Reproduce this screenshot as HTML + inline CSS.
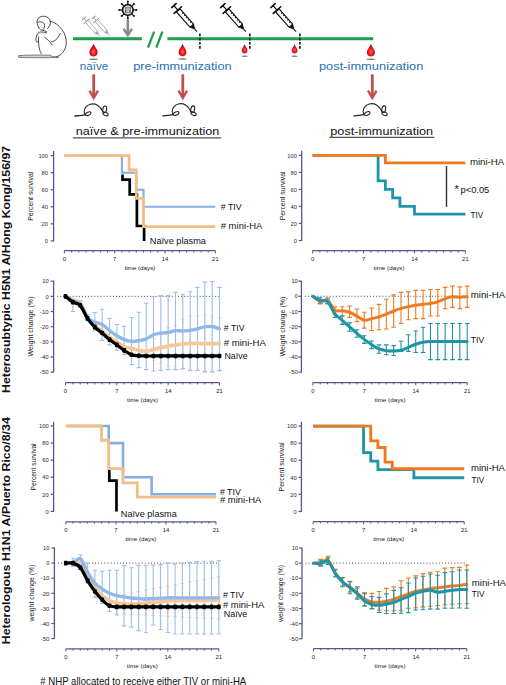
<!DOCTYPE html>
<html><head><meta charset="utf-8"><title>figure</title><style>html,body{margin:0;padding:0;background:#fff;width:506px;height:685px;overflow:hidden}svg text{font-family:"Liberation Sans", sans-serif}</style></head><body>
<svg width="506" height="685" viewBox="0 0 506 685" style="display:block;font-family:'Liberation Sans', sans-serif">
<rect width="506" height="685" fill="#fff"/>
<defs><radialGradient id="dg" cx="0.5" cy="0.62" r="0.55"><stop offset="0" stop-color="#ff6a5a"/><stop offset="0.55" stop-color="#e8141c"/><stop offset="1" stop-color="#b8060e"/></radialGradient><linearGradient id="dl" x1="0" y1="0" x2="0" y2="1"><stop offset="0" stop-color="#5a1010" stop-opacity="0.9"/><stop offset="0.35" stop-color="#c01010" stop-opacity="0"/><stop offset="1" stop-color="#c01010" stop-opacity="0"/></linearGradient></defs>
<g fill="none" stroke="#404040" stroke-width="0.95" stroke-linecap="round" stroke-linejoin="round">
<path d="M38.6,27.4 C37,25 36.6,21.5 37.6,19.4 C39,16.8 42,16 44.5,16.3 C47.3,16.7 49.6,18.3 50.3,21 C50.9,23.6 49.8,26.5 47.6,28.5"/>
<path d="M37.9,22.2 C39.8,21.6 42.2,21.9 43.6,22.9 C45,24.2 44.9,26.8 43.8,28.6 C43,29.9 42,30.3 41.2,30.1 C40,29.6 39.2,28.6 38.6,27.4"/>
<path d="M42.5,30.2 C44.2,30.6 45.5,31 46.6,31.8"/>
<path d="M50,21.2 C54,21.8 58.5,25 62,29.5 C65.3,34 66.6,39.5 66.2,44 C65.8,48.5 63.5,52.5 60.5,54.8 C59,55.9 57.5,56.5 56,56.8"/>
<path d="M36.8,35.6 C37.2,33.4 38.6,32.2 40.6,32 C42.5,31.9 44.8,32.2 46.3,32.8"/>
<path d="M36.8,35.6 C35.8,37.6 35.5,40 36.3,41.6 C36.8,42.4 37.6,42.2 38,41.2"/>
<path d="M38.6,36.8 C38.3,41 38.6,45.5 39.5,49 C40,51.2 40.6,52.6 41.3,53.6"/>
<path d="M44.6,37.2 C46.4,38.6 48.5,40.5 49.8,41.8 C50.8,42.8 51.6,44 52.2,45"/>
<path d="M51.5,41.6 C53.5,41.6 55.2,40.6 57,38.6 C58.4,37 59.4,35.2 60.2,33.6"/>
</g>
<path d="M18.6,55.6 C28,54.9 40,54.9 51,55.2 L51.5,56.4 C54,56.7 56.5,56.8 58.3,56.9 L58.3,57.6 C45,57.9 30,57.8 18.6,57.5 Z" fill="#cfcfcf" stroke="#555" stroke-width="0.7"/>
<line x1="73" y1="38.8" x2="141.8" y2="38.8" stroke="#1c9f4c" stroke-width="2.9"/>
<line x1="167.4" y1="38.8" x2="373.2" y2="38.8" stroke="#1c9f4c" stroke-width="2.9"/>
<path d="M154.1,31.6 L148,47.6 M162.4,31.6 L156.3,47.6" stroke="#1c9f4c" stroke-width="2.3"/>
<g transform="translate(173.9,5.6) rotate(48.4) scale(1)" fill="none" stroke="#111" stroke-linecap="round"><path d="M0,-2.9 V2.9" stroke-width="1.71"/><path d="M0,0 H6" stroke-width="1.32"/><path d="M6,-5.0 V5.0" stroke-width="1.59"/><rect x="6.6" y="-2.3" width="20.6" height="4.6" fill="#fff" stroke-width="1.16" stroke-linejoin="round"/><path d="M11.5,-2.3 v1.5 M14.5,-2.3 v1.5 M17.5,-2.3 v1.5 M20.5,-2.3 v1.5 M23.5,-2.3 v1.5" stroke-width="0.99" stroke-linecap="butt"/><path d="M27.2,-2 L30.6,-0.5 L30.6,0.5 L27.2,2 Z" fill="#111" stroke-width="0.77" stroke-linejoin="round"/><path d="M30.2,0 H34.4" stroke-width="0.99"/></g>
<g transform="translate(222.8,5.6) rotate(48.4) scale(1)" fill="none" stroke="#111" stroke-linecap="round"><path d="M0,-2.9 V2.9" stroke-width="1.71"/><path d="M0,0 H6" stroke-width="1.32"/><path d="M6,-5.0 V5.0" stroke-width="1.59"/><rect x="6.6" y="-2.3" width="20.6" height="4.6" fill="#fff" stroke-width="1.16" stroke-linejoin="round"/><path d="M11.5,-2.3 v1.5 M14.5,-2.3 v1.5 M17.5,-2.3 v1.5 M20.5,-2.3 v1.5 M23.5,-2.3 v1.5" stroke-width="0.99" stroke-linecap="butt"/><path d="M27.2,-2 L30.6,-0.5 L30.6,0.5 L27.2,2 Z" fill="#111" stroke-width="0.77" stroke-linejoin="round"/><path d="M30.2,0 H34.4" stroke-width="0.99"/></g>
<g transform="translate(273,5.6) rotate(48.4) scale(1)" fill="none" stroke="#111" stroke-linecap="round"><path d="M0,-2.9 V2.9" stroke-width="1.71"/><path d="M0,0 H6" stroke-width="1.32"/><path d="M6,-5.0 V5.0" stroke-width="1.59"/><rect x="6.6" y="-2.3" width="20.6" height="4.6" fill="#fff" stroke-width="1.16" stroke-linejoin="round"/><path d="M11.5,-2.3 v1.5 M14.5,-2.3 v1.5 M17.5,-2.3 v1.5 M20.5,-2.3 v1.5 M23.5,-2.3 v1.5" stroke-width="0.99" stroke-linecap="butt"/><path d="M27.2,-2 L30.6,-0.5 L30.6,0.5 L27.2,2 Z" fill="#111" stroke-width="0.77" stroke-linejoin="round"/><path d="M30.2,0 H34.4" stroke-width="0.99"/></g>
<g transform="translate(83.9,18.2) rotate(48.5) scale(0.7)" fill="none" stroke="#9c9c9c" stroke-linecap="round"><path d="M0,-2.9 V2.9" stroke-width="1.63"/><path d="M0,0 H6" stroke-width="1.26"/><path d="M6,-5.0 V5.0" stroke-width="1.52"/><rect x="6.6" y="-2.3" width="20.6" height="4.6" fill="#fff" stroke-width="1.1" stroke-linejoin="round"/><path d="M27.2,-2 L30.6,-0.5 L30.6,0.5 L27.2,2 Z" fill="#9c9c9c" stroke-width="0.73" stroke-linejoin="round"/><path d="M30.2,0 H34.4" stroke-width="0.95"/></g>
<g transform="translate(93.6,17.4) rotate(48.5) scale(0.7)" fill="none" stroke="#9c9c9c" stroke-linecap="round"><path d="M0,-2.9 V2.9" stroke-width="1.63"/><path d="M0,0 H6" stroke-width="1.26"/><path d="M6,-5.0 V5.0" stroke-width="1.52"/><rect x="6.6" y="-2.3" width="20.6" height="4.6" fill="#fff" stroke-width="1.1" stroke-linejoin="round"/><path d="M27.2,-2 L30.6,-0.5 L30.6,0.5 L27.2,2 Z" fill="#9c9c9c" stroke-width="0.73" stroke-linejoin="round"/><path d="M30.2,0 H34.4" stroke-width="0.95"/></g>
<line x1="199.9" y1="33.5" x2="199.9" y2="49" stroke="#111" stroke-width="1.6" stroke-dasharray="2.7,1.5"/>
<line x1="249.8" y1="33.5" x2="249.8" y2="49" stroke="#111" stroke-width="1.6" stroke-dasharray="2.7,1.5"/>
<line x1="299.9" y1="33.5" x2="299.9" y2="49" stroke="#111" stroke-width="1.6" stroke-dasharray="2.7,1.5"/>
<line x1="127.8" y1="4.5" x2="127.8" y2="1.4" stroke="#111" stroke-width="1.2"/><circle cx="127.8" cy="1.4" r="1.0" fill="#111"/><line x1="131.69" y1="6.11" x2="133.88" y2="3.92" stroke="#111" stroke-width="1.2"/><circle cx="133.88" cy="3.92" r="1.0" fill="#111"/><line x1="133.3" y1="10" x2="136.4" y2="10" stroke="#111" stroke-width="1.2"/><circle cx="136.4" cy="10" r="1.0" fill="#111"/><line x1="131.69" y1="13.89" x2="133.88" y2="16.08" stroke="#111" stroke-width="1.2"/><circle cx="133.88" cy="16.08" r="1.0" fill="#111"/><line x1="127.8" y1="15.5" x2="127.8" y2="18.6" stroke="#111" stroke-width="1.2"/><circle cx="127.8" cy="18.6" r="1.0" fill="#111"/><line x1="123.91" y1="13.89" x2="121.72" y2="16.08" stroke="#111" stroke-width="1.2"/><circle cx="121.72" cy="16.08" r="1.0" fill="#111"/><line x1="122.3" y1="10" x2="119.2" y2="10" stroke="#111" stroke-width="1.2"/><circle cx="119.2" cy="10" r="1.0" fill="#111"/><line x1="123.91" y1="6.11" x2="121.72" y2="3.92" stroke="#111" stroke-width="1.2"/><circle cx="121.72" cy="3.92" r="1.0" fill="#111"/>
<circle cx="127.8" cy="10.0" r="5.3" fill="#fff" stroke="#111" stroke-width="1.7"/>
<rect x="124.7" y="6.8" width="6.2" height="6.4" rx="1" fill="#6a6a6a"/>
<path d="M125.6,8.1 h4.4 M125.6,9.4 h4.4 M126.2,10.8 h3.2 M127.1,10.8 v2 M128.8,10.8 v2" stroke="#fff" stroke-width="0.65"/>
<path d="M127.8,19.5 V34.5" stroke="#8a8a8a" stroke-width="2.6"/>
<path d="M123.6,28.8 L127.8,35.2 L132,28.8" fill="none" stroke="#8a8a8a" stroke-width="2.5" stroke-linejoin="miter"/>
<path d="M93.5,43.8 C94.48,47 97.6,49.18 97.6,52.25 C97.6,55.32 95.79,56.6 93.5,56.6 C91.21,56.6 89.4,55.32 89.4,52.25 C89.4,49.18 92.52,47 93.5,43.8 Z" fill="url(#dg)"/>
<path d="M93.5,43.8 C94.48,47 97.6,49.18 97.6,52.25 C97.6,55.32 95.79,56.6 93.5,56.6 C91.21,56.6 89.4,55.32 89.4,52.25 C89.4,49.18 92.52,47 93.5,43.8 Z" fill="url(#dl)"/>
<ellipse cx="93.5" cy="59.3" rx="4.59" ry="0.75" fill="#4f4f66" opacity="0.75"/>
<path d="M182.5,44 C183.44,47.05 186.4,49.12 186.4,52.05 C186.4,54.98 184.69,56.2 182.5,56.2 C180.31,56.2 178.6,54.98 178.6,52.05 C178.6,49.12 181.56,47.05 182.5,44 Z" fill="url(#dg)"/>
<path d="M182.5,44 C183.44,47.05 186.4,49.12 186.4,52.05 C186.4,54.98 184.69,56.2 182.5,56.2 C180.31,56.2 178.6,54.98 178.6,52.05 C178.6,49.12 181.56,47.05 182.5,44 Z" fill="url(#dl)"/>
<ellipse cx="182.5" cy="58.9" rx="4.37" ry="0.75" fill="#4f4f66" opacity="0.75"/>
<path d="M244.6,44.6 C245.28,46.83 247.45,48.34 247.45,50.47 C247.45,52.61 246.19,53.5 244.6,53.5 C243.01,53.5 241.75,52.61 241.75,50.47 C241.75,48.34 243.92,46.83 244.6,44.6 Z" fill="url(#dg)"/>
<path d="M244.6,44.6 C245.28,46.83 247.45,48.34 247.45,50.47 C247.45,52.61 246.19,53.5 244.6,53.5 C243.01,53.5 241.75,52.61 241.75,50.47 C241.75,48.34 243.92,46.83 244.6,44.6 Z" fill="url(#dl)"/>
<ellipse cx="244.6" cy="56.2" rx="3.19" ry="0.75" fill="#4f4f66" opacity="0.75"/>
<path d="M294.6,44.6 C295.28,46.83 297.45,48.34 297.45,50.47 C297.45,52.61 296.19,53.5 294.6,53.5 C293.01,53.5 291.75,52.61 291.75,50.47 C291.75,48.34 293.92,46.83 294.6,44.6 Z" fill="url(#dg)"/>
<path d="M294.6,44.6 C295.28,46.83 297.45,48.34 297.45,50.47 C297.45,52.61 296.19,53.5 294.6,53.5 C293.01,53.5 291.75,52.61 291.75,50.47 C291.75,48.34 293.92,46.83 294.6,44.6 Z" fill="url(#dl)"/>
<ellipse cx="294.6" cy="56.2" rx="3.19" ry="0.75" fill="#4f4f66" opacity="0.75"/>
<path d="M370.9,44 C371.87,47.15 374.93,49.29 374.93,52.32 C374.93,55.34 373.16,56.6 370.9,56.6 C368.64,56.6 366.87,55.34 366.87,52.32 C366.87,49.29 369.93,47.15 370.9,44 Z" fill="url(#dg)"/>
<path d="M370.9,44 C371.87,47.15 374.93,49.29 374.93,52.32 C374.93,55.34 373.16,56.6 370.9,56.6 C368.64,56.6 366.87,55.34 366.87,52.32 C366.87,49.29 369.93,47.15 370.9,44 Z" fill="url(#dl)"/>
<ellipse cx="370.9" cy="59.3" rx="4.52" ry="0.75" fill="#4f4f66" opacity="0.75"/>
<text x="79.7" y="70.2" font-size="11.6" text-anchor="start" fill="#2c6fae" font-weight="normal" textLength="28.5" lengthAdjust="spacingAndGlyphs" >naïve</text>
<text x="133.2" y="70.3" font-size="11.6" text-anchor="start" fill="#2c6fae" font-weight="normal" textLength="98.5" lengthAdjust="spacingAndGlyphs" >pre-immunization</text>
<text x="318.9" y="70.2" font-size="11.6" text-anchor="start" fill="#2c6fae" font-weight="normal" textLength="104.5" lengthAdjust="spacingAndGlyphs" >post-immunization</text>
<path d="M93.7,74.3 V96" stroke="#c0504d" stroke-width="2.8"/>
<path d="M89.4,90.6 L93.7,97.9 L98,90.6" fill="none" stroke="#c0504d" stroke-width="2.4" stroke-linejoin="miter"/>
<path d="M182.8,74.3 V96" stroke="#c0504d" stroke-width="2.8"/>
<path d="M178.5,90.6 L182.8,97.9 L187.1,90.6" fill="none" stroke="#c0504d" stroke-width="2.4" stroke-linejoin="miter"/>
<path d="M372.3,74.3 V96" stroke="#c0504d" stroke-width="2.8"/>
<path d="M368,90.6 L372.3,97.9 L376.6,90.6" fill="none" stroke="#c0504d" stroke-width="2.4" stroke-linejoin="miter"/>
<g transform="translate(74.8,116)" fill="none" stroke="#262626" stroke-width="1.1" stroke-linecap="round"><path d="M0,0 C3,-0.1 6.5,-0.4 10.2,-1.1" stroke-width="1.3"/><ellipse cx="13.4" cy="-2.3" rx="2.9" ry="1.6" transform="rotate(-22 13.4 -2.3)"/><path d="M10.2,-1.1 C8.3,-4 9.2,-9.5 15.4,-11.7 C20.5,-13.3 25.5,-10.2 28.2,-4.2"/><ellipse cx="29.9" cy="-6.6" rx="1.9" ry="3.4" transform="rotate(12 29.9 -6.6)"/><ellipse cx="30.8" cy="-2.0" rx="2.7" ry="1.6" transform="rotate(22 30.8 -2)"/></g>
<g transform="translate(162.8,115.8)" fill="none" stroke="#262626" stroke-width="1.1" stroke-linecap="round"><path d="M0,0 C3,-0.1 6.5,-0.4 10.2,-1.1" stroke-width="1.3"/><ellipse cx="13.4" cy="-2.3" rx="2.9" ry="1.6" transform="rotate(-22 13.4 -2.3)"/><path d="M10.2,-1.1 C8.3,-4 9.2,-9.5 15.4,-11.7 C20.5,-13.3 25.5,-10.2 28.2,-4.2"/><ellipse cx="29.9" cy="-6.6" rx="1.9" ry="3.4" transform="rotate(12 29.9 -6.6)"/><ellipse cx="30.8" cy="-2.0" rx="2.7" ry="1.6" transform="rotate(22 30.8 -2)"/></g>
<g transform="translate(353.8,115.8)" fill="none" stroke="#262626" stroke-width="1.1" stroke-linecap="round"><path d="M0,0 C3,-0.1 6.5,-0.4 10.2,-1.1" stroke-width="1.3"/><ellipse cx="13.4" cy="-2.3" rx="2.9" ry="1.6" transform="rotate(-22 13.4 -2.3)"/><path d="M10.2,-1.1 C8.3,-4 9.2,-9.5 15.4,-11.7 C20.5,-13.3 25.5,-10.2 28.2,-4.2"/><ellipse cx="29.9" cy="-6.6" rx="1.9" ry="3.4" transform="rotate(12 29.9 -6.6)"/><ellipse cx="30.8" cy="-2.0" rx="2.7" ry="1.6" transform="rotate(22 30.8 -2)"/></g>
<text x="75.7" y="135.4" font-size="11.4" text-anchor="start" fill="#111" font-weight="normal" textLength="143.7" lengthAdjust="spacingAndGlyphs" >naïve &amp; pre-immunization</text>
<line x1="72.8" y1="137.9" x2="221.2" y2="137.9" stroke="#555" stroke-width="1.2"/>
<text x="330.3" y="135" font-size="11.4" text-anchor="start" fill="#111" font-weight="normal" textLength="102.8" lengthAdjust="spacingAndGlyphs" >post-immunization</text>
<line x1="329.3" y1="137.3" x2="434.4" y2="137.3" stroke="#555" stroke-width="1.2"/>
<text x="0" y="0" font-size="11.8" font-weight="bold" fill="#111" textLength="247" lengthAdjust="spacingAndGlyphs" transform="translate(9.9,392.9) rotate(-90)">Heterosubtypic H5N1 A/Hong Kong/156/97</text>
<text x="0" y="0" font-size="11.8" font-weight="bold" fill="#111" textLength="227" lengthAdjust="spacingAndGlyphs" transform="translate(9.9,644.2) rotate(-90)">Heterologous H1N1 A/Puerto Rico/8/34</text>
<text x="40.3" y="685.3" font-size="10.2" text-anchor="start" fill="#111" font-weight="normal" textLength="206" lengthAdjust="spacingAndGlyphs" ># NHP allocated to receive either TIV or mini-HA</text>
<line x1="53.6" y1="151" x2="53.6" y2="241.5" stroke="#55568f" stroke-width="1.3"/>
<line x1="50.6" y1="240.9" x2="53.6" y2="240.9" stroke="#55568f" stroke-width="1.2"/>
<text x="48" y="243.1" font-size="6.2" text-anchor="end" fill="#2a2a2a" font-weight="normal" textLength="3.2" lengthAdjust="spacingAndGlyphs" >0</text>
<line x1="50.6" y1="223.86" x2="53.6" y2="223.86" stroke="#55568f" stroke-width="1.2"/>
<text x="48" y="226.06" font-size="6.2" text-anchor="end" fill="#2a2a2a" font-weight="normal" textLength="6.4" lengthAdjust="spacingAndGlyphs" >20</text>
<line x1="50.6" y1="206.82" x2="53.6" y2="206.82" stroke="#55568f" stroke-width="1.2"/>
<text x="48" y="209.02" font-size="6.2" text-anchor="end" fill="#2a2a2a" font-weight="normal" textLength="6.4" lengthAdjust="spacingAndGlyphs" >40</text>
<line x1="50.6" y1="189.78" x2="53.6" y2="189.78" stroke="#55568f" stroke-width="1.2"/>
<text x="48" y="191.98" font-size="6.2" text-anchor="end" fill="#2a2a2a" font-weight="normal" textLength="6.4" lengthAdjust="spacingAndGlyphs" >60</text>
<line x1="50.6" y1="172.74" x2="53.6" y2="172.74" stroke="#55568f" stroke-width="1.2"/>
<text x="48" y="174.94" font-size="6.2" text-anchor="end" fill="#2a2a2a" font-weight="normal" textLength="6.4" lengthAdjust="spacingAndGlyphs" >80</text>
<line x1="50.6" y1="155.7" x2="53.6" y2="155.7" stroke="#55568f" stroke-width="1.2"/>
<text x="48" y="157.9" font-size="6.2" text-anchor="end" fill="#2a2a2a" font-weight="normal" textLength="9.6" lengthAdjust="spacingAndGlyphs" >100</text>
<text x="0" y="0" font-size="6.6" fill="#222" text-anchor="middle" textLength="49" lengthAdjust="spacingAndGlyphs" transform="translate(33.2,196.25) rotate(-90)">Percent survival</text>
<line x1="64.4" y1="250.7" x2="215.4" y2="250.7" stroke="#55568f" stroke-width="1.3"/>
<line x1="64.4" y1="250.7" x2="64.4" y2="253.5" stroke="#55568f" stroke-width="1"/>
<line x1="71.59" y1="250.7" x2="71.59" y2="252.5" stroke="#55568f" stroke-width="1"/>
<line x1="78.78" y1="250.7" x2="78.78" y2="252.5" stroke="#55568f" stroke-width="1"/>
<line x1="85.97" y1="250.7" x2="85.97" y2="252.5" stroke="#55568f" stroke-width="1"/>
<line x1="93.16" y1="250.7" x2="93.16" y2="252.5" stroke="#55568f" stroke-width="1"/>
<line x1="100.35" y1="250.7" x2="100.35" y2="252.5" stroke="#55568f" stroke-width="1"/>
<line x1="107.54" y1="250.7" x2="107.54" y2="252.5" stroke="#55568f" stroke-width="1"/>
<line x1="114.73" y1="250.7" x2="114.73" y2="253.5" stroke="#55568f" stroke-width="1"/>
<line x1="121.92" y1="250.7" x2="121.92" y2="252.5" stroke="#55568f" stroke-width="1"/>
<line x1="129.11" y1="250.7" x2="129.11" y2="252.5" stroke="#55568f" stroke-width="1"/>
<line x1="136.3" y1="250.7" x2="136.3" y2="252.5" stroke="#55568f" stroke-width="1"/>
<line x1="143.5" y1="250.7" x2="143.5" y2="252.5" stroke="#55568f" stroke-width="1"/>
<line x1="150.69" y1="250.7" x2="150.69" y2="252.5" stroke="#55568f" stroke-width="1"/>
<line x1="157.88" y1="250.7" x2="157.88" y2="252.5" stroke="#55568f" stroke-width="1"/>
<line x1="165.07" y1="250.7" x2="165.07" y2="253.5" stroke="#55568f" stroke-width="1"/>
<line x1="172.26" y1="250.7" x2="172.26" y2="252.5" stroke="#55568f" stroke-width="1"/>
<line x1="179.45" y1="250.7" x2="179.45" y2="252.5" stroke="#55568f" stroke-width="1"/>
<line x1="186.64" y1="250.7" x2="186.64" y2="252.5" stroke="#55568f" stroke-width="1"/>
<line x1="193.83" y1="250.7" x2="193.83" y2="252.5" stroke="#55568f" stroke-width="1"/>
<line x1="201.02" y1="250.7" x2="201.02" y2="252.5" stroke="#55568f" stroke-width="1"/>
<line x1="208.21" y1="250.7" x2="208.21" y2="252.5" stroke="#55568f" stroke-width="1"/>
<line x1="215.4" y1="250.7" x2="215.4" y2="253.5" stroke="#55568f" stroke-width="1"/>
<text x="64.4" y="260.7" font-size="5.9" text-anchor="middle" fill="#222" font-weight="normal" >0</text>
<text x="114.73" y="260.7" font-size="5.9" text-anchor="middle" fill="#222" font-weight="normal" >7</text>
<text x="165.07" y="260.7" font-size="5.9" text-anchor="middle" fill="#222" font-weight="normal" >14</text>
<text x="215.4" y="260.7" font-size="5.9" text-anchor="middle" fill="#222" font-weight="normal" >21</text>
<text x="139.9" y="270" font-size="6.1" text-anchor="middle" fill="#222" font-weight="normal" textLength="31" lengthAdjust="spacingAndGlyphs" >time (days)</text>
<path d="M122.52,174.44 L122.52,174.44 L122.52,179.56 L129.71,179.56 L129.71,194.47 L136.9,194.47 L136.9,225.99 L144.1,225.99 L144.1,240.9 L144.1,240.9" fill="none" stroke="#000" stroke-width="2.7" stroke-linejoin="miter" stroke-linecap="butt"/>
<path d="M64.4,155.7 L121.92,155.7 L121.92,172.74 L136.3,172.74 L136.3,189.78 L143.5,189.78 L143.5,206.82 L215.4,206.82" fill="none" stroke="#86aee3" stroke-width="2.1" stroke-linejoin="miter" stroke-linecap="butt"/>
<path d="M64.4,155.7 L129.11,155.7 L129.11,169.93 L136.3,169.93 L136.3,198.3 L143.5,198.3 L143.5,226.67 L215.4,226.67" fill="none" stroke="#f3bd86" stroke-width="2.8" stroke-linejoin="miter" stroke-linecap="butt"/>
<text x="220.7" y="209.6" font-size="9.5" text-anchor="start" fill="#111" font-weight="normal" textLength="21" lengthAdjust="spacingAndGlyphs" ># TIV</text>
<text x="220.7" y="229.1" font-size="9.5" text-anchor="start" fill="#111" font-weight="normal" textLength="41.7" lengthAdjust="spacingAndGlyphs" ># mini-HA</text>
<text x="149.8" y="243.5" font-size="9.5" text-anchor="start" fill="#111" font-weight="normal" textLength="56.1" lengthAdjust="spacingAndGlyphs" >Naïve plasma</text>
<line x1="53.6" y1="280.6" x2="53.6" y2="372.4" stroke="#55568f" stroke-width="1.3"/>
<line x1="50.6" y1="281.2" x2="53.6" y2="281.2" stroke="#55568f" stroke-width="1.2"/>
<text x="48.6" y="283.4" font-size="6.2" text-anchor="end" fill="#2a2a2a" font-weight="normal" textLength="6.4" lengthAdjust="spacingAndGlyphs" >10</text>
<line x1="50.6" y1="296.37" x2="53.6" y2="296.37" stroke="#55568f" stroke-width="1.2"/>
<text x="48.6" y="298.57" font-size="6.2" text-anchor="end" fill="#2a2a2a" font-weight="normal" textLength="3.2" lengthAdjust="spacingAndGlyphs" >0</text>
<line x1="50.6" y1="311.53" x2="53.6" y2="311.53" stroke="#55568f" stroke-width="1.2"/>
<text x="48.6" y="313.73" font-size="6.2" text-anchor="end" fill="#2a2a2a" font-weight="normal" textLength="8.6" lengthAdjust="spacingAndGlyphs" >-10</text>
<line x1="50.6" y1="326.7" x2="53.6" y2="326.7" stroke="#55568f" stroke-width="1.2"/>
<text x="48.6" y="328.9" font-size="6.2" text-anchor="end" fill="#2a2a2a" font-weight="normal" textLength="8.6" lengthAdjust="spacingAndGlyphs" >-20</text>
<line x1="50.6" y1="341.87" x2="53.6" y2="341.87" stroke="#55568f" stroke-width="1.2"/>
<text x="48.6" y="344.07" font-size="6.2" text-anchor="end" fill="#2a2a2a" font-weight="normal" textLength="8.6" lengthAdjust="spacingAndGlyphs" >-30</text>
<line x1="50.6" y1="357.03" x2="53.6" y2="357.03" stroke="#55568f" stroke-width="1.2"/>
<text x="48.6" y="359.23" font-size="6.2" text-anchor="end" fill="#2a2a2a" font-weight="normal" textLength="8.6" lengthAdjust="spacingAndGlyphs" >-40</text>
<line x1="50.6" y1="372.2" x2="53.6" y2="372.2" stroke="#55568f" stroke-width="1.2"/>
<text x="48.6" y="374.4" font-size="6.2" text-anchor="end" fill="#2a2a2a" font-weight="normal" textLength="8.6" lengthAdjust="spacingAndGlyphs" >-50</text>
<text x="0" y="0" font-size="6.6" fill="#222" text-anchor="middle" textLength="60" lengthAdjust="spacingAndGlyphs" transform="translate(32.7,326.5) rotate(-90)">Weight change (%)</text>
<line x1="65.5" y1="382.6" x2="219.5" y2="382.6" stroke="#55568f" stroke-width="1.3"/>
<line x1="65.5" y1="382.6" x2="65.5" y2="385.4" stroke="#55568f" stroke-width="1"/>
<line x1="72.83" y1="382.6" x2="72.83" y2="384.4" stroke="#55568f" stroke-width="1"/>
<line x1="80.17" y1="382.6" x2="80.17" y2="384.4" stroke="#55568f" stroke-width="1"/>
<line x1="87.5" y1="382.6" x2="87.5" y2="384.4" stroke="#55568f" stroke-width="1"/>
<line x1="94.83" y1="382.6" x2="94.83" y2="384.4" stroke="#55568f" stroke-width="1"/>
<line x1="102.17" y1="382.6" x2="102.17" y2="384.4" stroke="#55568f" stroke-width="1"/>
<line x1="109.5" y1="382.6" x2="109.5" y2="384.4" stroke="#55568f" stroke-width="1"/>
<line x1="116.83" y1="382.6" x2="116.83" y2="385.4" stroke="#55568f" stroke-width="1"/>
<line x1="124.17" y1="382.6" x2="124.17" y2="384.4" stroke="#55568f" stroke-width="1"/>
<line x1="131.5" y1="382.6" x2="131.5" y2="384.4" stroke="#55568f" stroke-width="1"/>
<line x1="138.83" y1="382.6" x2="138.83" y2="384.4" stroke="#55568f" stroke-width="1"/>
<line x1="146.17" y1="382.6" x2="146.17" y2="384.4" stroke="#55568f" stroke-width="1"/>
<line x1="153.5" y1="382.6" x2="153.5" y2="384.4" stroke="#55568f" stroke-width="1"/>
<line x1="160.83" y1="382.6" x2="160.83" y2="384.4" stroke="#55568f" stroke-width="1"/>
<line x1="168.17" y1="382.6" x2="168.17" y2="385.4" stroke="#55568f" stroke-width="1"/>
<line x1="175.5" y1="382.6" x2="175.5" y2="384.4" stroke="#55568f" stroke-width="1"/>
<line x1="182.83" y1="382.6" x2="182.83" y2="384.4" stroke="#55568f" stroke-width="1"/>
<line x1="190.17" y1="382.6" x2="190.17" y2="384.4" stroke="#55568f" stroke-width="1"/>
<line x1="197.5" y1="382.6" x2="197.5" y2="384.4" stroke="#55568f" stroke-width="1"/>
<line x1="204.83" y1="382.6" x2="204.83" y2="384.4" stroke="#55568f" stroke-width="1"/>
<line x1="212.17" y1="382.6" x2="212.17" y2="384.4" stroke="#55568f" stroke-width="1"/>
<line x1="219.5" y1="382.6" x2="219.5" y2="385.4" stroke="#55568f" stroke-width="1"/>
<text x="65.5" y="392.6" font-size="5.9" text-anchor="middle" fill="#222" font-weight="normal" >0</text>
<text x="116.83" y="392.6" font-size="5.9" text-anchor="middle" fill="#222" font-weight="normal" >7</text>
<text x="168.17" y="392.6" font-size="5.9" text-anchor="middle" fill="#222" font-weight="normal" >14</text>
<text x="219.5" y="392.6" font-size="5.9" text-anchor="middle" fill="#222" font-weight="normal" >21</text>
<text x="142.5" y="401.9" font-size="6.1" text-anchor="middle" fill="#222" font-weight="normal" textLength="31" lengthAdjust="spacingAndGlyphs" >time (days)</text>
<line x1="57.1" y1="296.37" x2="219.5" y2="296.37" stroke="#333" stroke-width="0.9" stroke-dasharray="1,2.1"/>
<path d="M80.17,300.16 V304.71 M78.17,300.16 H82.17 M78.17,304.71 H82.17" stroke="#f3bd86" stroke-width="0.9" fill="none" opacity="0.6"/>
<path d="M153.5,338.68 V360.67 M151.5,338.68 H155.5 M151.5,360.67 H155.5" stroke="#f3bd86" stroke-width="0.9" fill="none" opacity="0.6"/>
<path d="M160.83,332.77 V363.25 M158.83,332.77 H162.83 M158.83,363.25 H162.83" stroke="#f3bd86" stroke-width="0.9" fill="none" opacity="0.6"/>
<path d="M168.17,327.31 V366.13 M166.17,327.31 H170.17 M166.17,366.13 H170.17" stroke="#f3bd86" stroke-width="0.9" fill="none" opacity="0.6"/>
<path d="M175.5,325.79 V366.74 M173.5,325.79 H177.5 M173.5,366.74 H177.5" stroke="#f3bd86" stroke-width="0.9" fill="none" opacity="0.6"/>
<path d="M182.83,319.12 V368.86 M180.83,319.12 H184.83 M180.83,368.86 H184.83" stroke="#f3bd86" stroke-width="0.9" fill="none" opacity="0.6"/>
<path d="M190.17,315.93 V370.68 M188.17,315.93 H192.17 M188.17,370.68 H192.17" stroke="#f3bd86" stroke-width="0.9" fill="none" opacity="0.6"/>
<path d="M197.5,316.24 V370.68 M195.5,316.24 H199.5 M195.5,370.68 H199.5" stroke="#f3bd86" stroke-width="0.9" fill="none" opacity="0.6"/>
<path d="M204.83,314.72 V371.14 M202.83,314.72 H206.83 M202.83,371.14 H206.83" stroke="#f3bd86" stroke-width="0.9" fill="none" opacity="0.6"/>
<path d="M212.17,316.24 V371.9 M210.17,316.24 H214.17 M210.17,371.9 H214.17" stroke="#f3bd86" stroke-width="0.9" fill="none" opacity="0.6"/>
<path d="M219.5,317.6 V371.44 M217.5,317.6 H221.5 M217.5,371.44 H221.5" stroke="#f3bd86" stroke-width="0.9" fill="none" opacity="0.6"/>
<path d="M72.83,303.04 V311.53 M70.63,303.04 H75.03 M70.63,311.53 H75.03" stroke="#9dbfec" stroke-width="1.1" fill="none" opacity="1"/>
<path d="M80.17,300.92 V306.98 M77.97,300.92 H82.37 M77.97,306.98 H82.37" stroke="#9dbfec" stroke-width="1.1" fill="none" opacity="1"/>
<path d="M87.5,314.57 V320.63 M85.3,314.57 H89.7 M85.3,320.63 H89.7" stroke="#9dbfec" stroke-width="1.1" fill="none" opacity="1"/>
<path d="M94.83,312.44 V330.64 M92.63,312.44 H97.03 M92.63,330.64 H97.03" stroke="#9dbfec" stroke-width="1.1" fill="none" opacity="1"/>
<path d="M102.17,309.26 V340.35 M99.97,309.26 H104.37 M99.97,340.35 H104.37" stroke="#9dbfec" stroke-width="1.1" fill="none" opacity="1"/>
<path d="M109.5,318.21 V344.9 M107.3,318.21 H111.7 M107.3,344.9 H111.7" stroke="#9dbfec" stroke-width="1.1" fill="none" opacity="1"/>
<path d="M116.83,324.43 V350.21 M114.63,324.43 H119.03 M114.63,350.21 H119.03" stroke="#9dbfec" stroke-width="1.1" fill="none" opacity="1"/>
<path d="M124.17,326.25 V354.61 M121.97,326.25 H126.37 M121.97,354.61 H126.37" stroke="#9dbfec" stroke-width="1.1" fill="none" opacity="1"/>
<path d="M131.5,317.45 V364.62 M129.3,317.45 H133.7 M129.3,364.62 H133.7" stroke="#9dbfec" stroke-width="1.1" fill="none" opacity="1"/>
<path d="M138.83,312.29 V367.65 M136.63,312.29 H141.03 M136.63,367.65 H141.03" stroke="#9dbfec" stroke-width="1.1" fill="none" opacity="1"/>
<path d="M146.17,303.19 V369.62 M143.97,303.19 H148.37 M143.97,369.62 H148.37" stroke="#9dbfec" stroke-width="1.1" fill="none" opacity="1"/>
<path d="M153.5,296.82 V370.99 M151.3,296.82 H155.7 M151.3,370.99 H155.7" stroke="#9dbfec" stroke-width="1.1" fill="none" opacity="1"/>
<path d="M160.83,295.61 V370.38 M158.63,295.61 H163.03 M158.63,370.38 H163.03" stroke="#9dbfec" stroke-width="1.1" fill="none" opacity="1"/>
<path d="M168.17,295.61 V369.62 M165.97,295.61 H170.37 M165.97,369.62 H170.37" stroke="#9dbfec" stroke-width="1.1" fill="none" opacity="1"/>
<path d="M175.5,292.42 V369.62 M173.3,292.42 H177.7 M173.3,369.62 H177.7" stroke="#9dbfec" stroke-width="1.1" fill="none" opacity="1"/>
<path d="M182.83,294.24 V368.86 M180.63,294.24 H185.03 M180.63,368.86 H185.03" stroke="#9dbfec" stroke-width="1.1" fill="none" opacity="1"/>
<path d="M190.17,291.82 V370.38 M187.97,291.82 H192.37 M187.97,370.38 H192.37" stroke="#9dbfec" stroke-width="1.1" fill="none" opacity="1"/>
<path d="M197.5,287.42 V370.38 M195.3,287.42 H199.7 M195.3,370.38 H199.7" stroke="#9dbfec" stroke-width="1.1" fill="none" opacity="1"/>
<path d="M204.83,282.11 V371.9 M202.63,282.11 H207.03 M202.63,371.9 H207.03" stroke="#9dbfec" stroke-width="1.1" fill="none" opacity="1"/>
<path d="M212.17,281.5 V371.9 M209.97,281.5 H214.37 M209.97,371.9 H214.37" stroke="#9dbfec" stroke-width="1.1" fill="none" opacity="1"/>
<path d="M219.5,287.42 V370.38 M217.3,287.42 H221.7 M217.3,370.38 H221.7" stroke="#9dbfec" stroke-width="1.1" fill="none" opacity="1"/>
<path d="M65.5,296.37 C66.72,297 70.39,299.02 72.83,300.16 C75.28,301.3 77.72,300.28 80.17,303.19 C82.61,306.1 85.06,313.93 87.5,317.6 C89.94,321.27 92.39,322.91 94.83,325.18 C97.28,327.46 99.72,329.23 102.17,331.25 C104.61,333.27 107.06,335.55 109.5,337.32 C111.94,339.09 114.39,340.35 116.83,341.87 C119.28,343.38 121.72,345.33 124.17,346.42 C126.61,347.5 129.06,347.73 131.5,348.39 C133.94,349.05 136.39,349.85 138.83,350.36 C141.28,350.87 143.72,351.57 146.17,351.42 C148.61,351.27 151.06,350.08 153.5,349.45 C155.94,348.82 158.39,348.19 160.83,347.63 C163.28,347.07 165.72,346.54 168.17,346.11 C170.61,345.68 173.06,345.41 175.5,345.05 C177.94,344.7 180.39,344.29 182.83,343.99 C185.28,343.69 187.72,343.31 190.17,343.23 C192.61,343.16 195.06,343.46 197.5,343.53 C199.94,343.61 202.39,343.66 204.83,343.69 C207.28,343.71 209.72,343.69 212.17,343.69 C214.61,343.69 218.28,343.69 219.5,343.69" fill="none" stroke="#f6c898" stroke-width="3.7" stroke-linecap="round" stroke-linejoin="round"/>
<path d="M65.5,296.37 C66.72,297.12 70.39,299.65 72.83,300.92 C75.28,302.18 77.72,301.17 80.17,303.95 C82.61,306.73 85.06,314.57 87.5,317.6 C89.94,320.63 92.39,321.01 94.83,322.15 C97.28,323.29 99.72,323.03 102.17,324.43 C104.61,325.82 107.06,328.6 109.5,330.49 C111.94,332.39 114.39,334.28 116.83,335.8 C119.28,337.32 121.72,338.66 124.17,339.59 C126.61,340.53 129.06,341.23 131.5,341.41 C133.94,341.59 136.39,341.08 138.83,340.65 C141.28,340.22 143.72,339.82 146.17,338.83 C148.61,337.85 151.06,335.67 153.5,334.74 C155.94,333.8 158.39,333.6 160.83,333.22 C163.28,332.84 165.72,332.89 168.17,332.46 C170.61,332.03 173.06,330.9 175.5,330.64 C177.94,330.39 180.39,331 182.83,330.95 C185.28,330.9 187.72,330.69 190.17,330.34 C192.61,329.99 195.06,329.4 197.5,328.82 C199.94,328.24 202.39,327.23 204.83,326.85 C207.28,326.47 209.72,326.22 212.17,326.55 C214.61,326.88 218.28,328.44 219.5,328.82" fill="none" stroke="#90b8ea" stroke-width="3.4" stroke-linecap="round" stroke-linejoin="round"/>
<path d="M65.5,296.37 C66.72,297.33 70.39,300.64 72.83,302.13 C75.28,303.62 77.72,302.61 80.17,305.31 C82.61,308.02 85.06,314.72 87.5,318.36 C89.94,322 92.39,324.7 94.83,327.15 C97.28,329.61 99.72,331 102.17,333.07 C104.61,335.14 107.06,337.62 109.5,339.59 C111.94,341.56 114.39,343.11 116.83,344.9 C119.28,346.69 121.72,348.72 124.17,350.36 C126.61,352 129.06,353.85 131.5,354.76 C133.94,355.67 136.39,355.62 138.83,355.82 C141.28,356.02 143.72,355.95 146.17,355.97 C148.61,356 151.06,355.97 153.5,355.97 C155.94,355.97 158.39,355.97 160.83,355.97 C163.28,355.97 165.72,355.97 168.17,355.97 C170.61,355.97 173.06,355.97 175.5,355.97 C177.94,355.97 180.39,355.97 182.83,355.97 C185.28,355.97 187.72,355.97 190.17,355.97 C192.61,355.97 195.06,355.97 197.5,355.97 C199.94,355.97 202.39,355.97 204.83,355.97 C207.28,355.97 209.72,355.97 212.17,355.97 C214.61,355.97 218.28,355.97 219.5,355.97" fill="none" stroke="#000" stroke-width="3.2" stroke-linecap="round" stroke-linejoin="round"/>
<rect x="63.6" y="294.07" width="3.8" height="4.6" rx="1" fill="#000"/>
<rect x="70.93" y="299.83" width="3.8" height="4.6" rx="1" fill="#000"/>
<rect x="78.27" y="303.01" width="3.8" height="4.6" rx="1" fill="#000"/>
<rect x="85.6" y="316.06" width="3.8" height="4.6" rx="1" fill="#000"/>
<rect x="92.93" y="324.85" width="3.8" height="4.6" rx="1" fill="#000"/>
<rect x="100.27" y="330.77" width="3.8" height="4.6" rx="1" fill="#000"/>
<rect x="107.6" y="337.29" width="3.8" height="4.6" rx="1" fill="#000"/>
<rect x="114.93" y="342.6" width="3.8" height="4.6" rx="1" fill="#000"/>
<rect x="122.27" y="348.06" width="3.8" height="4.6" rx="1" fill="#000"/>
<rect x="129.6" y="352.46" width="3.8" height="4.6" rx="1" fill="#000"/>
<rect x="136.93" y="353.52" width="3.8" height="4.6" rx="1" fill="#000"/>
<rect x="144.27" y="353.67" width="3.8" height="4.6" rx="1" fill="#000"/>
<rect x="151.6" y="353.67" width="3.8" height="4.6" rx="1" fill="#000"/>
<rect x="158.93" y="353.67" width="3.8" height="4.6" rx="1" fill="#000"/>
<rect x="166.27" y="353.67" width="3.8" height="4.6" rx="1" fill="#000"/>
<rect x="173.6" y="353.67" width="3.8" height="4.6" rx="1" fill="#000"/>
<rect x="180.93" y="353.67" width="3.8" height="4.6" rx="1" fill="#000"/>
<rect x="188.27" y="353.67" width="3.8" height="4.6" rx="1" fill="#000"/>
<rect x="195.6" y="353.67" width="3.8" height="4.6" rx="1" fill="#000"/>
<rect x="202.93" y="353.67" width="3.8" height="4.6" rx="1" fill="#000"/>
<rect x="210.27" y="353.67" width="3.8" height="4.6" rx="1" fill="#000"/>
<rect x="217.6" y="353.67" width="3.8" height="4.6" rx="1" fill="#000"/>
<text x="223.7" y="331" font-size="9.5" text-anchor="start" fill="#111" font-weight="normal" textLength="21" lengthAdjust="spacingAndGlyphs" ># TIV</text>
<text x="223.7" y="345.7" font-size="9.5" text-anchor="start" fill="#111" font-weight="normal" textLength="42.2" lengthAdjust="spacingAndGlyphs" ># mini-HA</text>
<text x="224.4" y="358.7" font-size="9.5" text-anchor="start" fill="#111" font-weight="normal" textLength="23.2" lengthAdjust="spacingAndGlyphs" >Naïve</text>
<line x1="301.7" y1="150.7" x2="301.7" y2="241" stroke="#55568f" stroke-width="1.3"/>
<line x1="298.7" y1="240.5" x2="301.7" y2="240.5" stroke="#55568f" stroke-width="1.2"/>
<text x="296.9" y="242.7" font-size="6.2" text-anchor="end" fill="#2a2a2a" font-weight="normal" textLength="3.2" lengthAdjust="spacingAndGlyphs" >0</text>
<line x1="298.7" y1="223.48" x2="301.7" y2="223.48" stroke="#55568f" stroke-width="1.2"/>
<text x="296.9" y="225.68" font-size="6.2" text-anchor="end" fill="#2a2a2a" font-weight="normal" textLength="6.4" lengthAdjust="spacingAndGlyphs" >20</text>
<line x1="298.7" y1="206.46" x2="301.7" y2="206.46" stroke="#55568f" stroke-width="1.2"/>
<text x="296.9" y="208.66" font-size="6.2" text-anchor="end" fill="#2a2a2a" font-weight="normal" textLength="6.4" lengthAdjust="spacingAndGlyphs" >40</text>
<line x1="298.7" y1="189.44" x2="301.7" y2="189.44" stroke="#55568f" stroke-width="1.2"/>
<text x="296.9" y="191.64" font-size="6.2" text-anchor="end" fill="#2a2a2a" font-weight="normal" textLength="6.4" lengthAdjust="spacingAndGlyphs" >60</text>
<line x1="298.7" y1="172.42" x2="301.7" y2="172.42" stroke="#55568f" stroke-width="1.2"/>
<text x="296.9" y="174.62" font-size="6.2" text-anchor="end" fill="#2a2a2a" font-weight="normal" textLength="6.4" lengthAdjust="spacingAndGlyphs" >80</text>
<line x1="298.7" y1="155.4" x2="301.7" y2="155.4" stroke="#55568f" stroke-width="1.2"/>
<text x="296.9" y="157.6" font-size="6.2" text-anchor="end" fill="#2a2a2a" font-weight="normal" textLength="9.6" lengthAdjust="spacingAndGlyphs" >100</text>
<text x="0" y="0" font-size="6.6" fill="#222" text-anchor="middle" textLength="49" lengthAdjust="spacingAndGlyphs" transform="translate(285.4,195.85) rotate(-90)">Percent survival</text>
<line x1="312.6" y1="250.7" x2="465.4" y2="250.7" stroke="#55568f" stroke-width="1.3"/>
<line x1="312.6" y1="250.7" x2="312.6" y2="253.5" stroke="#55568f" stroke-width="1"/>
<line x1="319.88" y1="250.7" x2="319.88" y2="252.5" stroke="#55568f" stroke-width="1"/>
<line x1="327.15" y1="250.7" x2="327.15" y2="252.5" stroke="#55568f" stroke-width="1"/>
<line x1="334.43" y1="250.7" x2="334.43" y2="252.5" stroke="#55568f" stroke-width="1"/>
<line x1="341.7" y1="250.7" x2="341.7" y2="252.5" stroke="#55568f" stroke-width="1"/>
<line x1="348.98" y1="250.7" x2="348.98" y2="252.5" stroke="#55568f" stroke-width="1"/>
<line x1="356.26" y1="250.7" x2="356.26" y2="252.5" stroke="#55568f" stroke-width="1"/>
<line x1="363.53" y1="250.7" x2="363.53" y2="253.5" stroke="#55568f" stroke-width="1"/>
<line x1="370.81" y1="250.7" x2="370.81" y2="252.5" stroke="#55568f" stroke-width="1"/>
<line x1="378.09" y1="250.7" x2="378.09" y2="252.5" stroke="#55568f" stroke-width="1"/>
<line x1="385.36" y1="250.7" x2="385.36" y2="252.5" stroke="#55568f" stroke-width="1"/>
<line x1="392.64" y1="250.7" x2="392.64" y2="252.5" stroke="#55568f" stroke-width="1"/>
<line x1="399.91" y1="250.7" x2="399.91" y2="252.5" stroke="#55568f" stroke-width="1"/>
<line x1="407.19" y1="250.7" x2="407.19" y2="252.5" stroke="#55568f" stroke-width="1"/>
<line x1="414.47" y1="250.7" x2="414.47" y2="253.5" stroke="#55568f" stroke-width="1"/>
<line x1="421.74" y1="250.7" x2="421.74" y2="252.5" stroke="#55568f" stroke-width="1"/>
<line x1="429.02" y1="250.7" x2="429.02" y2="252.5" stroke="#55568f" stroke-width="1"/>
<line x1="436.3" y1="250.7" x2="436.3" y2="252.5" stroke="#55568f" stroke-width="1"/>
<line x1="443.57" y1="250.7" x2="443.57" y2="252.5" stroke="#55568f" stroke-width="1"/>
<line x1="450.85" y1="250.7" x2="450.85" y2="252.5" stroke="#55568f" stroke-width="1"/>
<line x1="458.12" y1="250.7" x2="458.12" y2="252.5" stroke="#55568f" stroke-width="1"/>
<line x1="465.4" y1="250.7" x2="465.4" y2="253.5" stroke="#55568f" stroke-width="1"/>
<text x="312.6" y="260.7" font-size="5.9" text-anchor="middle" fill="#222" font-weight="normal" >0</text>
<text x="363.53" y="260.7" font-size="5.9" text-anchor="middle" fill="#222" font-weight="normal" >7</text>
<text x="414.47" y="260.7" font-size="5.9" text-anchor="middle" fill="#222" font-weight="normal" >14</text>
<text x="465.4" y="260.7" font-size="5.9" text-anchor="middle" fill="#222" font-weight="normal" >21</text>
<text x="389" y="270" font-size="6.1" text-anchor="middle" fill="#222" font-weight="normal" textLength="31" lengthAdjust="spacingAndGlyphs" >time (days)</text>
<path d="M312.6,155.4 L378.09,155.4 L378.09,180.93 L385.36,180.93 L385.36,189.44 L392.64,189.44 L392.64,197.95 L399.91,197.95 L399.91,206.46 L414.47,206.46 L414.47,214.12 L465.4,214.12" fill="none" stroke="#1f93a7" stroke-width="2.8" stroke-linejoin="miter" stroke-linecap="butt"/>
<path d="M312.6,155.4 L385.36,155.4 L385.36,162.89 L465.4,162.89" fill="none" stroke="#ee7b22" stroke-width="2.9" stroke-linejoin="miter" stroke-linecap="butt"/>
<line x1="446.5" y1="166" x2="446.5" y2="207" stroke="#333" stroke-width="1.4"/>
<text x="454.4" y="193.3" font-size="11" text-anchor="start" fill="#111" font-weight="normal" >*</text>
<text x="460.5" y="193.1" font-size="9.5" text-anchor="start" fill="#111" font-weight="normal" textLength="28.8" lengthAdjust="spacingAndGlyphs" >p&lt;0.05</text>
<text x="469.9" y="164.9" font-size="9.5" text-anchor="start" fill="#111" font-weight="normal" textLength="34.3" lengthAdjust="spacingAndGlyphs" >mini-HA</text>
<text x="470.5" y="217.7" font-size="9.5" text-anchor="start" fill="#111" font-weight="normal" textLength="12.7" lengthAdjust="spacingAndGlyphs" >TIV</text>
<line x1="301.4" y1="280.7" x2="301.4" y2="372.4" stroke="#55568f" stroke-width="1.3"/>
<line x1="298.4" y1="281.1" x2="301.4" y2="281.1" stroke="#55568f" stroke-width="1.2"/>
<text x="297.8" y="283.3" font-size="6.2" text-anchor="end" fill="#2a2a2a" font-weight="normal" textLength="6.4" lengthAdjust="spacingAndGlyphs" >10</text>
<line x1="298.4" y1="296.28" x2="301.4" y2="296.28" stroke="#55568f" stroke-width="1.2"/>
<text x="297.8" y="298.48" font-size="6.2" text-anchor="end" fill="#2a2a2a" font-weight="normal" textLength="3.2" lengthAdjust="spacingAndGlyphs" >0</text>
<line x1="298.4" y1="311.47" x2="301.4" y2="311.47" stroke="#55568f" stroke-width="1.2"/>
<text x="297.8" y="313.67" font-size="6.2" text-anchor="end" fill="#2a2a2a" font-weight="normal" textLength="8.6" lengthAdjust="spacingAndGlyphs" >-10</text>
<line x1="298.4" y1="326.65" x2="301.4" y2="326.65" stroke="#55568f" stroke-width="1.2"/>
<text x="297.8" y="328.85" font-size="6.2" text-anchor="end" fill="#2a2a2a" font-weight="normal" textLength="8.6" lengthAdjust="spacingAndGlyphs" >-20</text>
<line x1="298.4" y1="341.83" x2="301.4" y2="341.83" stroke="#55568f" stroke-width="1.2"/>
<text x="297.8" y="344.03" font-size="6.2" text-anchor="end" fill="#2a2a2a" font-weight="normal" textLength="8.6" lengthAdjust="spacingAndGlyphs" >-30</text>
<line x1="298.4" y1="357.02" x2="301.4" y2="357.02" stroke="#55568f" stroke-width="1.2"/>
<text x="297.8" y="359.22" font-size="6.2" text-anchor="end" fill="#2a2a2a" font-weight="normal" textLength="8.6" lengthAdjust="spacingAndGlyphs" >-40</text>
<line x1="298.4" y1="372.2" x2="301.4" y2="372.2" stroke="#55568f" stroke-width="1.2"/>
<text x="297.8" y="374.4" font-size="6.2" text-anchor="end" fill="#2a2a2a" font-weight="normal" textLength="8.6" lengthAdjust="spacingAndGlyphs" >-50</text>
<text x="0" y="0" font-size="6.6" fill="#222" text-anchor="middle" textLength="60" lengthAdjust="spacingAndGlyphs" transform="translate(284.5,326.55) rotate(-90)">Weight change (%)</text>
<line x1="312.8" y1="382.6" x2="467.2" y2="382.6" stroke="#55568f" stroke-width="1.3"/>
<line x1="312.8" y1="382.6" x2="312.8" y2="385.4" stroke="#55568f" stroke-width="1"/>
<line x1="320.15" y1="382.6" x2="320.15" y2="384.4" stroke="#55568f" stroke-width="1"/>
<line x1="327.5" y1="382.6" x2="327.5" y2="384.4" stroke="#55568f" stroke-width="1"/>
<line x1="334.86" y1="382.6" x2="334.86" y2="384.4" stroke="#55568f" stroke-width="1"/>
<line x1="342.21" y1="382.6" x2="342.21" y2="384.4" stroke="#55568f" stroke-width="1"/>
<line x1="349.56" y1="382.6" x2="349.56" y2="384.4" stroke="#55568f" stroke-width="1"/>
<line x1="356.91" y1="382.6" x2="356.91" y2="384.4" stroke="#55568f" stroke-width="1"/>
<line x1="364.27" y1="382.6" x2="364.27" y2="385.4" stroke="#55568f" stroke-width="1"/>
<line x1="371.62" y1="382.6" x2="371.62" y2="384.4" stroke="#55568f" stroke-width="1"/>
<line x1="378.97" y1="382.6" x2="378.97" y2="384.4" stroke="#55568f" stroke-width="1"/>
<line x1="386.32" y1="382.6" x2="386.32" y2="384.4" stroke="#55568f" stroke-width="1"/>
<line x1="393.68" y1="382.6" x2="393.68" y2="384.4" stroke="#55568f" stroke-width="1"/>
<line x1="401.03" y1="382.6" x2="401.03" y2="384.4" stroke="#55568f" stroke-width="1"/>
<line x1="408.38" y1="382.6" x2="408.38" y2="384.4" stroke="#55568f" stroke-width="1"/>
<line x1="415.73" y1="382.6" x2="415.73" y2="385.4" stroke="#55568f" stroke-width="1"/>
<line x1="423.09" y1="382.6" x2="423.09" y2="384.4" stroke="#55568f" stroke-width="1"/>
<line x1="430.44" y1="382.6" x2="430.44" y2="384.4" stroke="#55568f" stroke-width="1"/>
<line x1="437.79" y1="382.6" x2="437.79" y2="384.4" stroke="#55568f" stroke-width="1"/>
<line x1="445.14" y1="382.6" x2="445.14" y2="384.4" stroke="#55568f" stroke-width="1"/>
<line x1="452.5" y1="382.6" x2="452.5" y2="384.4" stroke="#55568f" stroke-width="1"/>
<line x1="459.85" y1="382.6" x2="459.85" y2="384.4" stroke="#55568f" stroke-width="1"/>
<line x1="467.2" y1="382.6" x2="467.2" y2="385.4" stroke="#55568f" stroke-width="1"/>
<text x="312.8" y="392.6" font-size="5.9" text-anchor="middle" fill="#222" font-weight="normal" >0</text>
<text x="364.27" y="392.6" font-size="5.9" text-anchor="middle" fill="#222" font-weight="normal" >7</text>
<text x="415.73" y="392.6" font-size="5.9" text-anchor="middle" fill="#222" font-weight="normal" >14</text>
<text x="467.2" y="392.6" font-size="5.9" text-anchor="middle" fill="#222" font-weight="normal" >21</text>
<text x="390" y="401.9" font-size="6.1" text-anchor="middle" fill="#222" font-weight="normal" textLength="31" lengthAdjust="spacingAndGlyphs" >time (days)</text>
<line x1="304.9" y1="296.28" x2="467.2" y2="296.28" stroke="#333" stroke-width="0.9" stroke-dasharray="1,2.1"/>
<path d="M320.15,299.32 V303.88 M317.85,299.32 H322.45 M317.85,303.88 H322.45" stroke="#ee7b22" stroke-width="1.1" fill="none" opacity="1"/>
<path d="M327.5,297.8 V303.12 M325.2,297.8 H329.8 M325.2,303.12 H329.8" stroke="#ee7b22" stroke-width="1.1" fill="none" opacity="1"/>
<path d="M334.86,306.91 V314.5 M332.56,306.91 H337.16 M332.56,314.5 H337.16" stroke="#ee7b22" stroke-width="1.1" fill="none" opacity="1"/>
<path d="M342.21,306.76 V316.17 M339.91,306.76 H344.51 M339.91,316.17 H344.51" stroke="#ee7b22" stroke-width="1.1" fill="none" opacity="1"/>
<path d="M349.56,306 V317.39 M347.26,306 H351.86 M347.26,317.39 H351.86" stroke="#ee7b22" stroke-width="1.1" fill="none" opacity="1"/>
<path d="M356.91,309.04 V321.64 M354.61,309.04 H359.21 M354.61,321.64 H359.21" stroke="#ee7b22" stroke-width="1.1" fill="none" opacity="1"/>
<path d="M364.27,312.23 V328.17 M361.97,312.23 H366.57 M361.97,328.17 H366.57" stroke="#ee7b22" stroke-width="1.1" fill="none" opacity="1"/>
<path d="M371.62,307.97 V330.45 M369.32,307.97 H373.92 M369.32,330.45 H373.92" stroke="#ee7b22" stroke-width="1.1" fill="none" opacity="1"/>
<path d="M378.97,304.33 V329.69 M376.67,304.33 H381.27 M376.67,329.69 H381.27" stroke="#ee7b22" stroke-width="1.1" fill="none" opacity="1"/>
<path d="M386.32,299.32 V328.93 M384.02,299.32 H388.62 M384.02,328.93 H388.62" stroke="#ee7b22" stroke-width="1.1" fill="none" opacity="1"/>
<path d="M393.68,294.92 V327.26 M391.38,294.92 H395.98 M391.38,327.26 H395.98" stroke="#ee7b22" stroke-width="1.1" fill="none" opacity="1"/>
<path d="M401.03,292.34 V323.46 M398.73,292.34 H403.33 M398.73,323.46 H403.33" stroke="#ee7b22" stroke-width="1.1" fill="none" opacity="1"/>
<path d="M408.38,291.88 V319.82 M406.08,291.88 H410.68 M406.08,319.82 H410.68" stroke="#ee7b22" stroke-width="1.1" fill="none" opacity="1"/>
<path d="M415.73,290.36 V318.6 M413.43,290.36 H418.03 M413.43,318.6 H418.03" stroke="#ee7b22" stroke-width="1.1" fill="none" opacity="1"/>
<path d="M423.09,290.36 V318.6 M420.79,290.36 H425.39 M420.79,318.6 H425.39" stroke="#ee7b22" stroke-width="1.1" fill="none" opacity="1"/>
<path d="M430.44,289.45 V316.02 M428.14,289.45 H432.74 M428.14,316.02 H432.74" stroke="#ee7b22" stroke-width="1.1" fill="none" opacity="1"/>
<path d="M437.79,289.45 V316.02 M435.49,289.45 H440.09 M435.49,316.02 H440.09" stroke="#ee7b22" stroke-width="1.1" fill="none" opacity="1"/>
<path d="M445.14,287.33 V308.58 M442.84,287.33 H447.44 M442.84,308.58 H447.44" stroke="#ee7b22" stroke-width="1.1" fill="none" opacity="1"/>
<path d="M452.5,286.11 V307.37 M450.2,286.11 H454.8 M450.2,307.37 H454.8" stroke="#ee7b22" stroke-width="1.1" fill="none" opacity="1"/>
<path d="M459.85,286.87 V308.58 M457.55,286.87 H462.15 M457.55,308.58 H462.15" stroke="#ee7b22" stroke-width="1.1" fill="none" opacity="1"/>
<path d="M467.2,286.11 V307.37 M464.9,286.11 H469.5 M464.9,307.37 H469.5" stroke="#ee7b22" stroke-width="1.1" fill="none" opacity="1"/>
<path d="M320.15,297.8 V303.12 M317.85,297.8 H322.45 M317.85,303.12 H322.45" stroke="#1f93a7" stroke-width="1.1" fill="none" opacity="1"/>
<path d="M327.5,299.02 V303.88 M325.2,299.02 H329.8 M325.2,303.88 H329.8" stroke="#1f93a7" stroke-width="1.1" fill="none" opacity="1"/>
<path d="M334.86,310.71 V317.54 M332.56,310.71 H337.16 M332.56,317.54 H337.16" stroke="#1f93a7" stroke-width="1.1" fill="none" opacity="1"/>
<path d="M342.21,316.02 V324.37 M339.91,316.02 H344.51 M339.91,324.37 H344.51" stroke="#1f93a7" stroke-width="1.1" fill="none" opacity="1"/>
<path d="M349.56,322.85 V331.2 M347.26,322.85 H351.86 M347.26,331.2 H351.86" stroke="#1f93a7" stroke-width="1.1" fill="none" opacity="1"/>
<path d="M356.91,329.69 V337.28 M354.61,329.69 H359.21 M354.61,337.28 H359.21" stroke="#1f93a7" stroke-width="1.1" fill="none" opacity="1"/>
<path d="M364.27,335.76 V343.35 M361.97,335.76 H366.57 M361.97,343.35 H366.57" stroke="#1f93a7" stroke-width="1.1" fill="none" opacity="1"/>
<path d="M371.62,341.07 V348.67 M369.32,341.07 H373.92 M369.32,348.67 H373.92" stroke="#1f93a7" stroke-width="1.1" fill="none" opacity="1"/>
<path d="M378.97,344.87 V353.22 M376.67,344.87 H381.27 M376.67,353.22 H381.27" stroke="#1f93a7" stroke-width="1.1" fill="none" opacity="1"/>
<path d="M386.32,344.87 V354.74 M384.02,344.87 H388.62 M384.02,354.74 H388.62" stroke="#1f93a7" stroke-width="1.1" fill="none" opacity="1"/>
<path d="M393.68,345.63 V355.5 M391.38,345.63 H395.98 M391.38,355.5 H395.98" stroke="#1f93a7" stroke-width="1.1" fill="none" opacity="1"/>
<path d="M401.03,341.23 V351.4 M398.73,341.23 H403.33 M398.73,351.4 H403.33" stroke="#1f93a7" stroke-width="1.1" fill="none" opacity="1"/>
<path d="M408.38,334.7 V351.4 M406.08,334.7 H410.68 M406.08,351.4 H410.68" stroke="#1f93a7" stroke-width="1.1" fill="none" opacity="1"/>
<path d="M415.73,331.05 V352.46 M413.43,331.05 H418.03 M413.43,352.46 H418.03" stroke="#1f93a7" stroke-width="1.1" fill="none" opacity="1"/>
<path d="M423.09,327.26 V352.46 M420.79,327.26 H425.39 M420.79,352.46 H425.39" stroke="#1f93a7" stroke-width="1.1" fill="none" opacity="1"/>
<path d="M430.44,323.46 V359.6 M428.14,323.46 H432.74 M428.14,359.6 H432.74" stroke="#1f93a7" stroke-width="1.1" fill="none" opacity="1"/>
<path d="M437.79,323.46 V359.6 M435.49,323.46 H440.09 M435.49,359.6 H440.09" stroke="#1f93a7" stroke-width="1.1" fill="none" opacity="1"/>
<path d="M445.14,323.46 V359.6 M442.84,323.46 H447.44 M442.84,359.6 H447.44" stroke="#1f93a7" stroke-width="1.1" fill="none" opacity="1"/>
<path d="M452.5,323.46 V359.6 M450.2,323.46 H454.8 M450.2,359.6 H454.8" stroke="#1f93a7" stroke-width="1.1" fill="none" opacity="1"/>
<path d="M459.85,323.46 V359.6 M457.55,323.46 H462.15 M457.55,359.6 H462.15" stroke="#1f93a7" stroke-width="1.1" fill="none" opacity="1"/>
<path d="M467.2,323.46 V359.6 M464.9,323.46 H469.5 M464.9,359.6 H469.5" stroke="#1f93a7" stroke-width="1.1" fill="none" opacity="1"/>
<path d="M312.8,296.28 C314.03,297.14 317.7,300.76 320.15,301.45 C322.6,302.13 325.05,298.92 327.5,300.38 C329.96,301.85 332.41,308.53 334.86,310.25 C337.31,311.97 339.76,310.38 342.21,310.71 C344.66,311.04 347.11,311.31 349.56,312.23 C352.01,313.14 354.46,314.83 356.91,316.17 C359.37,317.51 361.82,319.87 364.27,320.27 C366.72,320.68 369.17,319.16 371.62,318.6 C374.07,318.05 376.52,317.67 378.97,316.93 C381.42,316.2 383.87,315.19 386.32,314.2 C388.77,313.21 391.23,311.97 393.68,311.01 C396.13,310.05 398.58,309.16 401.03,308.43 C403.48,307.7 405.93,307.14 408.38,306.61 C410.83,306.08 413.28,305.65 415.73,305.24 C418.18,304.84 420.63,304.48 423.09,304.18 C425.54,303.88 427.99,303.8 430.44,303.42 C432.89,303.04 435.34,302.71 437.79,301.9 C440.24,301.09 442.69,299.42 445.14,298.56 C447.59,297.7 450.04,296.97 452.5,296.74 C454.95,296.51 457.4,297.19 459.85,297.19 C462.3,297.19 465.97,296.81 467.2,296.74" fill="none" stroke="#ee7b22" stroke-width="3.0" stroke-linecap="round" stroke-linejoin="round"/>
<path d="M312.8,296.28 C314.03,296.97 317.7,299.52 320.15,300.38 C322.6,301.24 325.05,299.19 327.5,301.45 C329.96,303.7 332.41,310.76 334.86,313.9 C337.31,317.03 339.76,318.12 342.21,320.27 C344.66,322.42 347.11,324.6 349.56,326.8 C352.01,329 354.46,331.38 356.91,333.48 C359.37,335.58 361.82,337.53 364.27,339.4 C366.72,341.28 369.17,343.12 371.62,344.72 C374.07,346.31 376.52,347.98 378.97,348.97 C381.42,349.96 383.87,350.31 386.32,350.64 C388.77,350.97 391.23,351.02 393.68,350.94 C396.13,350.87 398.58,350.79 401.03,350.18 C403.48,349.58 405.93,348.29 408.38,347.3 C410.83,346.31 413.28,345.1 415.73,344.26 C418.18,343.43 420.63,342.74 423.09,342.29 C425.54,341.83 427.99,341.66 430.44,341.53 C432.89,341.4 435.34,341.53 437.79,341.53 C440.24,341.53 442.69,341.53 445.14,341.53 C447.59,341.53 450.04,341.53 452.5,341.53 C454.95,341.53 457.4,341.53 459.85,341.53 C462.3,341.53 465.97,341.53 467.2,341.53" fill="none" stroke="#1f93a7" stroke-width="3.0" stroke-linecap="round" stroke-linejoin="round"/>
<text x="470.8" y="298.2" font-size="9.5" text-anchor="start" fill="#111" font-weight="normal" textLength="34.3" lengthAdjust="spacingAndGlyphs" >mini-HA</text>
<text x="470.8" y="343.4" font-size="9.5" text-anchor="start" fill="#111" font-weight="normal" textLength="13.3" lengthAdjust="spacingAndGlyphs" >TIV</text>
<line x1="53.6" y1="421.8" x2="53.6" y2="512" stroke="#55568f" stroke-width="1.3"/>
<line x1="50.6" y1="511.4" x2="53.6" y2="511.4" stroke="#55568f" stroke-width="1.2"/>
<text x="48.6" y="513.6" font-size="6.2" text-anchor="end" fill="#2a2a2a" font-weight="normal" textLength="3.2" lengthAdjust="spacingAndGlyphs" >0</text>
<line x1="50.6" y1="494.32" x2="53.6" y2="494.32" stroke="#55568f" stroke-width="1.2"/>
<text x="48.6" y="496.52" font-size="6.2" text-anchor="end" fill="#2a2a2a" font-weight="normal" textLength="6.4" lengthAdjust="spacingAndGlyphs" >20</text>
<line x1="50.6" y1="477.24" x2="53.6" y2="477.24" stroke="#55568f" stroke-width="1.2"/>
<text x="48.6" y="479.44" font-size="6.2" text-anchor="end" fill="#2a2a2a" font-weight="normal" textLength="6.4" lengthAdjust="spacingAndGlyphs" >40</text>
<line x1="50.6" y1="460.16" x2="53.6" y2="460.16" stroke="#55568f" stroke-width="1.2"/>
<text x="48.6" y="462.36" font-size="6.2" text-anchor="end" fill="#2a2a2a" font-weight="normal" textLength="6.4" lengthAdjust="spacingAndGlyphs" >60</text>
<line x1="50.6" y1="443.08" x2="53.6" y2="443.08" stroke="#55568f" stroke-width="1.2"/>
<text x="48.6" y="445.28" font-size="6.2" text-anchor="end" fill="#2a2a2a" font-weight="normal" textLength="6.4" lengthAdjust="spacingAndGlyphs" >80</text>
<line x1="50.6" y1="426" x2="53.6" y2="426" stroke="#55568f" stroke-width="1.2"/>
<text x="48.6" y="428.2" font-size="6.2" text-anchor="end" fill="#2a2a2a" font-weight="normal" textLength="9.6" lengthAdjust="spacingAndGlyphs" >100</text>
<text x="0" y="0" font-size="6.6" fill="#222" text-anchor="middle" textLength="47" lengthAdjust="spacingAndGlyphs" transform="translate(35.5,466.9) rotate(-90)">Percent survival</text>
<line x1="65.8" y1="521.8" x2="216" y2="521.8" stroke="#55568f" stroke-width="1.3"/>
<line x1="65.8" y1="521.8" x2="65.8" y2="524.6" stroke="#55568f" stroke-width="1"/>
<line x1="72.95" y1="521.8" x2="72.95" y2="523.6" stroke="#55568f" stroke-width="1"/>
<line x1="80.1" y1="521.8" x2="80.1" y2="523.6" stroke="#55568f" stroke-width="1"/>
<line x1="87.26" y1="521.8" x2="87.26" y2="523.6" stroke="#55568f" stroke-width="1"/>
<line x1="94.41" y1="521.8" x2="94.41" y2="523.6" stroke="#55568f" stroke-width="1"/>
<line x1="101.56" y1="521.8" x2="101.56" y2="523.6" stroke="#55568f" stroke-width="1"/>
<line x1="108.71" y1="521.8" x2="108.71" y2="523.6" stroke="#55568f" stroke-width="1"/>
<line x1="115.87" y1="521.8" x2="115.87" y2="524.6" stroke="#55568f" stroke-width="1"/>
<line x1="123.02" y1="521.8" x2="123.02" y2="523.6" stroke="#55568f" stroke-width="1"/>
<line x1="130.17" y1="521.8" x2="130.17" y2="523.6" stroke="#55568f" stroke-width="1"/>
<line x1="137.32" y1="521.8" x2="137.32" y2="523.6" stroke="#55568f" stroke-width="1"/>
<line x1="144.48" y1="521.8" x2="144.48" y2="523.6" stroke="#55568f" stroke-width="1"/>
<line x1="151.63" y1="521.8" x2="151.63" y2="523.6" stroke="#55568f" stroke-width="1"/>
<line x1="158.78" y1="521.8" x2="158.78" y2="523.6" stroke="#55568f" stroke-width="1"/>
<line x1="165.93" y1="521.8" x2="165.93" y2="524.6" stroke="#55568f" stroke-width="1"/>
<line x1="173.09" y1="521.8" x2="173.09" y2="523.6" stroke="#55568f" stroke-width="1"/>
<line x1="180.24" y1="521.8" x2="180.24" y2="523.6" stroke="#55568f" stroke-width="1"/>
<line x1="187.39" y1="521.8" x2="187.39" y2="523.6" stroke="#55568f" stroke-width="1"/>
<line x1="194.54" y1="521.8" x2="194.54" y2="523.6" stroke="#55568f" stroke-width="1"/>
<line x1="201.7" y1="521.8" x2="201.7" y2="523.6" stroke="#55568f" stroke-width="1"/>
<line x1="208.85" y1="521.8" x2="208.85" y2="523.6" stroke="#55568f" stroke-width="1"/>
<line x1="216" y1="521.8" x2="216" y2="524.6" stroke="#55568f" stroke-width="1"/>
<text x="65.8" y="531.8" font-size="5.9" text-anchor="middle" fill="#222" font-weight="normal" >0</text>
<text x="115.87" y="531.8" font-size="5.9" text-anchor="middle" fill="#222" font-weight="normal" >7</text>
<text x="165.93" y="531.8" font-size="5.9" text-anchor="middle" fill="#222" font-weight="normal" >14</text>
<text x="216" y="531.8" font-size="5.9" text-anchor="middle" fill="#222" font-weight="normal" >21</text>
<text x="140.9" y="541.1" font-size="6.1" text-anchor="middle" fill="#222" font-weight="normal" textLength="31" lengthAdjust="spacingAndGlyphs" >time (days)</text>
<path d="M109.31,468.7 L109.31,468.7 L109.31,480.66 L116.47,480.66 L116.47,511.4 L116.47,511.4" fill="none" stroke="#000" stroke-width="2.7" stroke-linejoin="miter" stroke-linecap="butt"/>
<path d="M65.8,426 L108.71,426 L108.71,443.08 L123.02,443.08 L123.02,477.24 L151.63,477.24 L151.63,494.32 L216,494.32" fill="none" stroke="#86aee3" stroke-width="2.6" stroke-linejoin="miter" stroke-linecap="butt"/>
<path d="M65.8,426 L101.56,426 L101.56,440.26 L108.71,440.26 L108.71,468.7 L123.02,468.7 L123.02,482.96 L137.32,482.96 L137.32,497.14 L216,497.14" fill="none" stroke="#f3bd86" stroke-width="2.8" stroke-linejoin="miter" stroke-linecap="butt"/>
<text x="219.9" y="494.8" font-size="9.5" text-anchor="start" fill="#111" font-weight="normal" textLength="21" lengthAdjust="spacingAndGlyphs" ># TIV</text>
<text x="219.9" y="502.9" font-size="9.5" text-anchor="start" fill="#111" font-weight="normal" textLength="41.5" lengthAdjust="spacingAndGlyphs" ># mini-HA</text>
<text x="120.8" y="516.8" font-size="9.5" text-anchor="start" fill="#111" font-weight="normal" textLength="56" lengthAdjust="spacingAndGlyphs" >Naïve plasma</text>
<line x1="54.4" y1="547.3" x2="54.4" y2="638.8" stroke="#55568f" stroke-width="1.3"/>
<line x1="51.4" y1="548" x2="54.4" y2="548" stroke="#55568f" stroke-width="1.2"/>
<text x="49.4" y="550.2" font-size="6.2" text-anchor="end" fill="#2a2a2a" font-weight="normal" textLength="6.4" lengthAdjust="spacingAndGlyphs" >10</text>
<line x1="51.4" y1="563.1" x2="54.4" y2="563.1" stroke="#55568f" stroke-width="1.2"/>
<text x="49.4" y="565.3" font-size="6.2" text-anchor="end" fill="#2a2a2a" font-weight="normal" textLength="3.2" lengthAdjust="spacingAndGlyphs" >0</text>
<line x1="51.4" y1="578.2" x2="54.4" y2="578.2" stroke="#55568f" stroke-width="1.2"/>
<text x="49.4" y="580.4" font-size="6.2" text-anchor="end" fill="#2a2a2a" font-weight="normal" textLength="8.6" lengthAdjust="spacingAndGlyphs" >-10</text>
<line x1="51.4" y1="593.3" x2="54.4" y2="593.3" stroke="#55568f" stroke-width="1.2"/>
<text x="49.4" y="595.5" font-size="6.2" text-anchor="end" fill="#2a2a2a" font-weight="normal" textLength="8.6" lengthAdjust="spacingAndGlyphs" >-20</text>
<line x1="51.4" y1="608.4" x2="54.4" y2="608.4" stroke="#55568f" stroke-width="1.2"/>
<text x="49.4" y="610.6" font-size="6.2" text-anchor="end" fill="#2a2a2a" font-weight="normal" textLength="8.6" lengthAdjust="spacingAndGlyphs" >-30</text>
<line x1="51.4" y1="623.5" x2="54.4" y2="623.5" stroke="#55568f" stroke-width="1.2"/>
<text x="49.4" y="625.7" font-size="6.2" text-anchor="end" fill="#2a2a2a" font-weight="normal" textLength="8.6" lengthAdjust="spacingAndGlyphs" >-40</text>
<line x1="51.4" y1="638.6" x2="54.4" y2="638.6" stroke="#55568f" stroke-width="1.2"/>
<text x="49.4" y="640.8" font-size="6.2" text-anchor="end" fill="#2a2a2a" font-weight="normal" textLength="8.6" lengthAdjust="spacingAndGlyphs" >-50</text>
<text x="0" y="0" font-size="6.6" fill="#222" text-anchor="middle" textLength="57" lengthAdjust="spacingAndGlyphs" transform="translate(34.1,593.05) rotate(-90)">weight change (%)</text>
<line x1="65.8" y1="648.8" x2="218.8" y2="648.8" stroke="#55568f" stroke-width="1.3"/>
<line x1="65.8" y1="648.8" x2="65.8" y2="651.6" stroke="#55568f" stroke-width="1"/>
<line x1="73.09" y1="648.8" x2="73.09" y2="650.6" stroke="#55568f" stroke-width="1"/>
<line x1="80.37" y1="648.8" x2="80.37" y2="650.6" stroke="#55568f" stroke-width="1"/>
<line x1="87.66" y1="648.8" x2="87.66" y2="650.6" stroke="#55568f" stroke-width="1"/>
<line x1="94.94" y1="648.8" x2="94.94" y2="650.6" stroke="#55568f" stroke-width="1"/>
<line x1="102.23" y1="648.8" x2="102.23" y2="650.6" stroke="#55568f" stroke-width="1"/>
<line x1="109.51" y1="648.8" x2="109.51" y2="650.6" stroke="#55568f" stroke-width="1"/>
<line x1="116.8" y1="648.8" x2="116.8" y2="651.6" stroke="#55568f" stroke-width="1"/>
<line x1="124.09" y1="648.8" x2="124.09" y2="650.6" stroke="#55568f" stroke-width="1"/>
<line x1="131.37" y1="648.8" x2="131.37" y2="650.6" stroke="#55568f" stroke-width="1"/>
<line x1="138.66" y1="648.8" x2="138.66" y2="650.6" stroke="#55568f" stroke-width="1"/>
<line x1="145.94" y1="648.8" x2="145.94" y2="650.6" stroke="#55568f" stroke-width="1"/>
<line x1="153.23" y1="648.8" x2="153.23" y2="650.6" stroke="#55568f" stroke-width="1"/>
<line x1="160.51" y1="648.8" x2="160.51" y2="650.6" stroke="#55568f" stroke-width="1"/>
<line x1="167.8" y1="648.8" x2="167.8" y2="651.6" stroke="#55568f" stroke-width="1"/>
<line x1="175.09" y1="648.8" x2="175.09" y2="650.6" stroke="#55568f" stroke-width="1"/>
<line x1="182.37" y1="648.8" x2="182.37" y2="650.6" stroke="#55568f" stroke-width="1"/>
<line x1="189.66" y1="648.8" x2="189.66" y2="650.6" stroke="#55568f" stroke-width="1"/>
<line x1="196.94" y1="648.8" x2="196.94" y2="650.6" stroke="#55568f" stroke-width="1"/>
<line x1="204.23" y1="648.8" x2="204.23" y2="650.6" stroke="#55568f" stroke-width="1"/>
<line x1="211.51" y1="648.8" x2="211.51" y2="650.6" stroke="#55568f" stroke-width="1"/>
<line x1="218.8" y1="648.8" x2="218.8" y2="651.6" stroke="#55568f" stroke-width="1"/>
<text x="65.8" y="658.8" font-size="5.9" text-anchor="middle" fill="#222" font-weight="normal" >0</text>
<text x="116.8" y="658.8" font-size="5.9" text-anchor="middle" fill="#222" font-weight="normal" >7</text>
<text x="167.8" y="658.8" font-size="5.9" text-anchor="middle" fill="#222" font-weight="normal" >14</text>
<text x="218.8" y="658.8" font-size="5.9" text-anchor="middle" fill="#222" font-weight="normal" >21</text>
<text x="142.3" y="668.1" font-size="6.1" text-anchor="middle" fill="#222" font-weight="normal" textLength="31" lengthAdjust="spacingAndGlyphs" >time (days)</text>
<line x1="57.9" y1="563.1" x2="218.8" y2="563.1" stroke="#333" stroke-width="0.9" stroke-dasharray="1,2.1"/>
<path d="M116.8,595.72 V613.69 M114.8,595.72 H118.8 M114.8,613.69 H118.8" stroke="#f3bd86" stroke-width="0.9" fill="none" opacity="0.75"/>
<path d="M124.09,594.36 V614.06 M122.09,594.36 H126.09 M122.09,614.06 H126.09" stroke="#f3bd86" stroke-width="0.9" fill="none" opacity="0.75"/>
<path d="M131.37,593 V614.44 M129.37,593 H133.37 M129.37,614.44 H133.37" stroke="#f3bd86" stroke-width="0.9" fill="none" opacity="0.75"/>
<path d="M138.66,591.64 V614.82 M136.66,591.64 H140.66 M136.66,614.82 H140.66" stroke="#f3bd86" stroke-width="0.9" fill="none" opacity="0.75"/>
<path d="M145.94,590.28 V615.2 M143.94,590.28 H147.94 M143.94,615.2 H147.94" stroke="#f3bd86" stroke-width="0.9" fill="none" opacity="0.75"/>
<path d="M153.23,588.92 V615.57 M151.23,588.92 H155.23 M151.23,615.57 H155.23" stroke="#f3bd86" stroke-width="0.9" fill="none" opacity="0.75"/>
<path d="M160.51,587.56 V615.95 M158.51,587.56 H162.51 M158.51,615.95 H162.51" stroke="#f3bd86" stroke-width="0.9" fill="none" opacity="0.75"/>
<path d="M167.8,586.2 V616.33 M165.8,586.2 H169.8 M165.8,616.33 H169.8" stroke="#f3bd86" stroke-width="0.9" fill="none" opacity="0.75"/>
<path d="M175.09,584.84 V616.71 M173.09,584.84 H177.09 M173.09,616.71 H177.09" stroke="#f3bd86" stroke-width="0.9" fill="none" opacity="0.75"/>
<path d="M182.37,583.49 V617.08 M180.37,583.49 H184.37 M180.37,617.08 H184.37" stroke="#f3bd86" stroke-width="0.9" fill="none" opacity="0.75"/>
<path d="M189.66,582.13 V617.46 M187.66,582.13 H191.66 M187.66,617.46 H191.66" stroke="#f3bd86" stroke-width="0.9" fill="none" opacity="0.75"/>
<path d="M196.94,580.77 V617.84 M194.94,580.77 H198.94 M194.94,617.84 H198.94" stroke="#f3bd86" stroke-width="0.9" fill="none" opacity="0.75"/>
<path d="M204.23,579.41 V618.22 M202.23,579.41 H206.23 M202.23,618.22 H206.23" stroke="#f3bd86" stroke-width="0.9" fill="none" opacity="0.75"/>
<path d="M211.51,578.05 V618.59 M209.51,578.05 H213.51 M209.51,618.59 H213.51" stroke="#f3bd86" stroke-width="0.9" fill="none" opacity="0.75"/>
<path d="M218.8,576.69 V618.97 M216.8,576.69 H220.8 M216.8,618.97 H220.8" stroke="#f3bd86" stroke-width="0.9" fill="none" opacity="0.75"/>
<path d="M73.09,558.27 V566.57 M70.89,558.27 H75.29 M70.89,566.57 H75.29" stroke="#9dbfec" stroke-width="1.1" fill="none" opacity="1"/>
<path d="M80.37,554.79 V561.89 M78.17,554.79 H82.57 M78.17,561.89 H82.57" stroke="#9dbfec" stroke-width="1.1" fill="none" opacity="1"/>
<path d="M87.66,563.1 V583.18 M85.46,563.1 H89.86 M85.46,583.18 H89.86" stroke="#9dbfec" stroke-width="1.1" fill="none" opacity="1"/>
<path d="M94.94,570.2 V597.38 M92.74,570.2 H97.14 M92.74,597.38 H97.14" stroke="#9dbfec" stroke-width="1.1" fill="none" opacity="1"/>
<path d="M102.23,571.4 V603.42 M100.03,571.4 H104.43 M100.03,603.42 H104.43" stroke="#9dbfec" stroke-width="1.1" fill="none" opacity="1"/>
<path d="M109.51,570.2 V611.57 M107.31,570.2 H111.71 M107.31,611.57 H111.71" stroke="#9dbfec" stroke-width="1.1" fill="none" opacity="1"/>
<path d="M116.8,570.2 V615.04 M114.6,570.2 H119 M114.6,615.04 H119" stroke="#9dbfec" stroke-width="1.1" fill="none" opacity="1"/>
<path d="M124.09,565.37 V625.92 M121.89,565.37 H126.29 M121.89,625.92 H126.29" stroke="#9dbfec" stroke-width="1.1" fill="none" opacity="1"/>
<path d="M131.37,567.78 V627.12 M129.17,567.78 H133.57 M129.17,627.12 H133.57" stroke="#9dbfec" stroke-width="1.1" fill="none" opacity="1"/>
<path d="M138.66,565.37 V630.6 M136.46,565.37 H140.86 M136.46,630.6 H140.86" stroke="#9dbfec" stroke-width="1.1" fill="none" opacity="1"/>
<path d="M145.94,565.37 V632.56 M143.74,565.37 H148.14 M143.74,632.56 H148.14" stroke="#9dbfec" stroke-width="1.1" fill="none" opacity="1"/>
<path d="M153.23,565.06 V625.01 M151.03,565.06 H155.43 M151.03,625.01 H155.43" stroke="#9dbfec" stroke-width="1.1" fill="none" opacity="1"/>
<path d="M160.51,564.61 V629.54 M158.31,564.61 H162.71 M158.31,629.54 H162.71" stroke="#9dbfec" stroke-width="1.1" fill="none" opacity="1"/>
<path d="M167.8,563.1 V632.56 M165.6,563.1 H170 M165.6,632.56 H170" stroke="#9dbfec" stroke-width="1.1" fill="none" opacity="1"/>
<path d="M175.09,563.86 V634.07 M172.89,563.86 H177.29 M172.89,634.07 H177.29" stroke="#9dbfec" stroke-width="1.1" fill="none" opacity="1"/>
<path d="M182.37,563.1 V634.07 M180.17,563.1 H184.57 M180.17,634.07 H184.57" stroke="#9dbfec" stroke-width="1.1" fill="none" opacity="1"/>
<path d="M189.66,562.35 V634.07 M187.46,562.35 H191.86 M187.46,634.07 H191.86" stroke="#9dbfec" stroke-width="1.1" fill="none" opacity="1"/>
<path d="M196.94,561.59 V634.07 M194.74,561.59 H199.14 M194.74,634.07 H199.14" stroke="#9dbfec" stroke-width="1.1" fill="none" opacity="1"/>
<path d="M204.23,561.29 V634.07 M202.03,561.29 H206.43 M202.03,634.07 H206.43" stroke="#9dbfec" stroke-width="1.1" fill="none" opacity="1"/>
<path d="M211.51,561.29 V634.07 M209.31,561.29 H213.71 M209.31,634.07 H213.71" stroke="#9dbfec" stroke-width="1.1" fill="none" opacity="1"/>
<path d="M218.8,560.84 V634.07 M216.6,560.84 H221 M216.6,634.07 H221" stroke="#9dbfec" stroke-width="1.1" fill="none" opacity="1"/>
<path d="M65.8,563.1 C67.01,563.1 70.66,563.1 73.09,563.1 C75.51,563.1 77.94,560.58 80.37,563.1 C82.8,565.62 85.23,574.05 87.66,578.2 C90.09,582.35 92.51,585.12 94.94,588.01 C97.37,590.91 99.8,593.48 102.23,595.57 C104.66,597.65 107.09,599.34 109.51,600.55 C111.94,601.76 114.37,602.26 116.8,602.81 C119.23,603.37 121.66,603.64 124.09,603.87 C126.51,604.1 128.94,604.17 131.37,604.17 C133.8,604.17 136.23,604.05 138.66,603.87 C141.09,603.69 143.51,603.37 145.94,603.12 C148.37,602.86 150.8,602.61 153.23,602.36 C155.66,602.11 158.09,601.86 160.51,601.61 C162.94,601.35 165.37,601.03 167.8,600.85 C170.23,600.67 172.66,600.62 175.09,600.55 C177.51,600.47 179.94,600.42 182.37,600.4 C184.8,600.37 187.23,600.4 189.66,600.4 C192.09,600.4 194.51,600.4 196.94,600.4 C199.37,600.4 201.8,600.4 204.23,600.4 C206.66,600.4 209.09,600.4 211.51,600.4 C213.94,600.4 217.59,600.4 218.8,600.4" fill="none" stroke="#f6c898" stroke-width="3.7" stroke-linecap="round" stroke-linejoin="round"/>
<path d="M65.8,563.1 C67.01,563.1 70.66,563.86 73.09,563.1 C75.51,562.35 77.94,557.01 80.37,558.57 C82.8,560.13 85.23,568.36 87.66,572.46 C90.09,576.56 92.51,580.41 94.94,583.18 C97.37,585.95 99.8,587.39 102.23,589.07 C104.66,590.76 107.09,592.19 109.51,593.3 C111.94,594.41 114.37,595.11 116.8,595.72 C119.23,596.32 121.66,596.55 124.09,596.92 C126.51,597.3 128.94,597.73 131.37,597.98 C133.8,598.23 136.23,598.26 138.66,598.43 C141.09,598.61 143.51,599.01 145.94,599.04 C148.37,599.06 150.8,598.74 153.23,598.59 C155.66,598.43 158.09,598.26 160.51,598.13 C162.94,598.01 165.37,597.88 167.8,597.83 C170.23,597.78 172.66,597.83 175.09,597.83 C177.51,597.83 179.94,597.83 182.37,597.83 C184.8,597.83 187.23,597.83 189.66,597.83 C192.09,597.83 194.51,597.83 196.94,597.83 C199.37,597.83 201.8,597.83 204.23,597.83 C206.66,597.83 209.09,597.83 211.51,597.83 C213.94,597.83 217.59,597.83 218.8,597.83" fill="none" stroke="#90b8ea" stroke-width="3.4" stroke-linecap="round" stroke-linejoin="round"/>
<path d="M65.8,563.1 C67.01,563.1 70.66,562.35 73.09,563.1 C75.51,563.86 77.94,564.71 80.37,567.63 C82.8,570.55 85.23,576.64 87.66,580.62 C90.09,584.59 92.51,588.29 94.94,591.49 C97.37,594.68 99.8,597.43 102.23,599.79 C104.66,602.16 107.09,604.5 109.51,605.68 C111.94,606.86 114.37,606.69 116.8,606.89 C119.23,607.09 121.66,606.89 124.09,606.89 C126.51,606.89 128.94,606.89 131.37,606.89 C133.8,606.89 136.23,606.89 138.66,606.89 C141.09,606.89 143.51,606.89 145.94,606.89 C148.37,606.89 150.8,606.89 153.23,606.89 C155.66,606.89 158.09,606.89 160.51,606.89 C162.94,606.89 165.37,606.89 167.8,606.89 C170.23,606.89 172.66,606.89 175.09,606.89 C177.51,606.89 179.94,606.89 182.37,606.89 C184.8,606.89 187.23,606.89 189.66,606.89 C192.09,606.89 194.51,606.89 196.94,606.89 C199.37,606.89 201.8,606.89 204.23,606.89 C206.66,606.89 209.09,606.89 211.51,606.89 C213.94,606.89 217.59,606.89 218.8,606.89" fill="none" stroke="#000" stroke-width="3.2" stroke-linecap="round" stroke-linejoin="round"/>
<rect x="63.9" y="560.8" width="3.8" height="4.6" rx="1" fill="#000"/>
<rect x="71.19" y="560.8" width="3.8" height="4.6" rx="1" fill="#000"/>
<rect x="78.47" y="565.33" width="3.8" height="4.6" rx="1" fill="#000"/>
<rect x="85.76" y="578.32" width="3.8" height="4.6" rx="1" fill="#000"/>
<rect x="93.04" y="589.19" width="3.8" height="4.6" rx="1" fill="#000"/>
<rect x="100.33" y="597.49" width="3.8" height="4.6" rx="1" fill="#000"/>
<rect x="107.61" y="603.38" width="3.8" height="4.6" rx="1" fill="#000"/>
<rect x="114.9" y="604.59" width="3.8" height="4.6" rx="1" fill="#000"/>
<rect x="122.19" y="604.59" width="3.8" height="4.6" rx="1" fill="#000"/>
<rect x="129.47" y="604.59" width="3.8" height="4.6" rx="1" fill="#000"/>
<rect x="136.76" y="604.59" width="3.8" height="4.6" rx="1" fill="#000"/>
<rect x="144.04" y="604.59" width="3.8" height="4.6" rx="1" fill="#000"/>
<rect x="151.33" y="604.59" width="3.8" height="4.6" rx="1" fill="#000"/>
<rect x="158.61" y="604.59" width="3.8" height="4.6" rx="1" fill="#000"/>
<rect x="165.9" y="604.59" width="3.8" height="4.6" rx="1" fill="#000"/>
<rect x="173.19" y="604.59" width="3.8" height="4.6" rx="1" fill="#000"/>
<rect x="180.47" y="604.59" width="3.8" height="4.6" rx="1" fill="#000"/>
<rect x="187.76" y="604.59" width="3.8" height="4.6" rx="1" fill="#000"/>
<rect x="195.04" y="604.59" width="3.8" height="4.6" rx="1" fill="#000"/>
<rect x="202.33" y="604.59" width="3.8" height="4.6" rx="1" fill="#000"/>
<rect x="209.61" y="604.59" width="3.8" height="4.6" rx="1" fill="#000"/>
<rect x="216.9" y="604.59" width="3.8" height="4.6" rx="1" fill="#000"/>
<text x="222.9" y="597.8" font-size="9.5" text-anchor="start" fill="#111" font-weight="normal" textLength="21" lengthAdjust="spacingAndGlyphs" ># TIV</text>
<text x="222.9" y="607.5" font-size="9.5" text-anchor="start" fill="#111" font-weight="normal" textLength="41.5" lengthAdjust="spacingAndGlyphs" ># mini-HA</text>
<text x="223.7" y="617.1" font-size="9.5" text-anchor="start" fill="#111" font-weight="normal" textLength="23.5" lengthAdjust="spacingAndGlyphs" >Naïve</text>
<line x1="301.4" y1="421.8" x2="301.4" y2="512" stroke="#55568f" stroke-width="1.3"/>
<line x1="298.4" y1="511.5" x2="301.4" y2="511.5" stroke="#55568f" stroke-width="1.2"/>
<text x="296.6" y="513.7" font-size="6.2" text-anchor="end" fill="#2a2a2a" font-weight="normal" textLength="3.2" lengthAdjust="spacingAndGlyphs" >0</text>
<line x1="298.4" y1="494.42" x2="301.4" y2="494.42" stroke="#55568f" stroke-width="1.2"/>
<text x="296.6" y="496.62" font-size="6.2" text-anchor="end" fill="#2a2a2a" font-weight="normal" textLength="6.4" lengthAdjust="spacingAndGlyphs" >20</text>
<line x1="298.4" y1="477.34" x2="301.4" y2="477.34" stroke="#55568f" stroke-width="1.2"/>
<text x="296.6" y="479.54" font-size="6.2" text-anchor="end" fill="#2a2a2a" font-weight="normal" textLength="6.4" lengthAdjust="spacingAndGlyphs" >40</text>
<line x1="298.4" y1="460.26" x2="301.4" y2="460.26" stroke="#55568f" stroke-width="1.2"/>
<text x="296.6" y="462.46" font-size="6.2" text-anchor="end" fill="#2a2a2a" font-weight="normal" textLength="6.4" lengthAdjust="spacingAndGlyphs" >60</text>
<line x1="298.4" y1="443.18" x2="301.4" y2="443.18" stroke="#55568f" stroke-width="1.2"/>
<text x="296.6" y="445.38" font-size="6.2" text-anchor="end" fill="#2a2a2a" font-weight="normal" textLength="6.4" lengthAdjust="spacingAndGlyphs" >80</text>
<line x1="298.4" y1="426.1" x2="301.4" y2="426.1" stroke="#55568f" stroke-width="1.2"/>
<text x="296.6" y="428.3" font-size="6.2" text-anchor="end" fill="#2a2a2a" font-weight="normal" textLength="9.6" lengthAdjust="spacingAndGlyphs" >100</text>
<text x="0" y="0" font-size="6.6" fill="#222" text-anchor="middle" textLength="49" lengthAdjust="spacingAndGlyphs" transform="translate(283.7,466.9) rotate(-90)">Percent survival</text>
<line x1="313.2" y1="521.6" x2="464.2" y2="521.6" stroke="#55568f" stroke-width="1.3"/>
<line x1="313.2" y1="521.6" x2="313.2" y2="524.4" stroke="#55568f" stroke-width="1"/>
<line x1="320.39" y1="521.6" x2="320.39" y2="523.4" stroke="#55568f" stroke-width="1"/>
<line x1="327.58" y1="521.6" x2="327.58" y2="523.4" stroke="#55568f" stroke-width="1"/>
<line x1="334.77" y1="521.6" x2="334.77" y2="523.4" stroke="#55568f" stroke-width="1"/>
<line x1="341.96" y1="521.6" x2="341.96" y2="523.4" stroke="#55568f" stroke-width="1"/>
<line x1="349.15" y1="521.6" x2="349.15" y2="523.4" stroke="#55568f" stroke-width="1"/>
<line x1="356.34" y1="521.6" x2="356.34" y2="523.4" stroke="#55568f" stroke-width="1"/>
<line x1="363.53" y1="521.6" x2="363.53" y2="524.4" stroke="#55568f" stroke-width="1"/>
<line x1="370.72" y1="521.6" x2="370.72" y2="523.4" stroke="#55568f" stroke-width="1"/>
<line x1="377.91" y1="521.6" x2="377.91" y2="523.4" stroke="#55568f" stroke-width="1"/>
<line x1="385.1" y1="521.6" x2="385.1" y2="523.4" stroke="#55568f" stroke-width="1"/>
<line x1="392.3" y1="521.6" x2="392.3" y2="523.4" stroke="#55568f" stroke-width="1"/>
<line x1="399.49" y1="521.6" x2="399.49" y2="523.4" stroke="#55568f" stroke-width="1"/>
<line x1="406.68" y1="521.6" x2="406.68" y2="523.4" stroke="#55568f" stroke-width="1"/>
<line x1="413.87" y1="521.6" x2="413.87" y2="524.4" stroke="#55568f" stroke-width="1"/>
<line x1="421.06" y1="521.6" x2="421.06" y2="523.4" stroke="#55568f" stroke-width="1"/>
<line x1="428.25" y1="521.6" x2="428.25" y2="523.4" stroke="#55568f" stroke-width="1"/>
<line x1="435.44" y1="521.6" x2="435.44" y2="523.4" stroke="#55568f" stroke-width="1"/>
<line x1="442.63" y1="521.6" x2="442.63" y2="523.4" stroke="#55568f" stroke-width="1"/>
<line x1="449.82" y1="521.6" x2="449.82" y2="523.4" stroke="#55568f" stroke-width="1"/>
<line x1="457.01" y1="521.6" x2="457.01" y2="523.4" stroke="#55568f" stroke-width="1"/>
<line x1="464.2" y1="521.6" x2="464.2" y2="524.4" stroke="#55568f" stroke-width="1"/>
<text x="313.2" y="531.6" font-size="5.9" text-anchor="middle" fill="#222" font-weight="normal" >0</text>
<text x="363.53" y="531.6" font-size="5.9" text-anchor="middle" fill="#222" font-weight="normal" >7</text>
<text x="413.87" y="531.6" font-size="5.9" text-anchor="middle" fill="#222" font-weight="normal" >14</text>
<text x="464.2" y="531.6" font-size="5.9" text-anchor="middle" fill="#222" font-weight="normal" >21</text>
<text x="388.7" y="540.9" font-size="6.1" text-anchor="middle" fill="#222" font-weight="normal" textLength="31" lengthAdjust="spacingAndGlyphs" >time (days)</text>
<path d="M313.2,426.1 L363.53,426.1 L363.53,452.57 L370.72,452.57 L370.72,461.11 L377.91,461.11 L377.91,469.65 L413.87,469.65 L413.87,477.77 L464.2,477.77" fill="none" stroke="#1f93a7" stroke-width="2.8" stroke-linejoin="miter" stroke-linecap="butt"/>
<path d="M313.2,426.1 L370.72,426.1 L370.72,440.87 L377.91,440.87 L377.91,447.45 L385.1,447.45 L385.1,462.14 L392.3,462.14 L392.3,468.8 L464.2,468.8" fill="none" stroke="#ee7b22" stroke-width="2.9" stroke-linejoin="miter" stroke-linecap="butt"/>
<text x="470.9" y="471.4" font-size="9.5" text-anchor="start" fill="#111" font-weight="normal" textLength="34.1" lengthAdjust="spacingAndGlyphs" >mini-HA</text>
<text x="471.4" y="482.7" font-size="9.5" text-anchor="start" fill="#111" font-weight="normal" textLength="12.7" lengthAdjust="spacingAndGlyphs" >TIV</text>
<line x1="302" y1="547.8" x2="302" y2="639" stroke="#55568f" stroke-width="1.3"/>
<line x1="299" y1="548" x2="302" y2="548" stroke="#55568f" stroke-width="1.2"/>
<text x="298.2" y="550.2" font-size="6.2" text-anchor="end" fill="#2a2a2a" font-weight="normal" textLength="6.4" lengthAdjust="spacingAndGlyphs" >10</text>
<line x1="299" y1="563.13" x2="302" y2="563.13" stroke="#55568f" stroke-width="1.2"/>
<text x="298.2" y="565.33" font-size="6.2" text-anchor="end" fill="#2a2a2a" font-weight="normal" textLength="3.2" lengthAdjust="spacingAndGlyphs" >0</text>
<line x1="299" y1="578.27" x2="302" y2="578.27" stroke="#55568f" stroke-width="1.2"/>
<text x="298.2" y="580.47" font-size="6.2" text-anchor="end" fill="#2a2a2a" font-weight="normal" textLength="8.6" lengthAdjust="spacingAndGlyphs" >-10</text>
<line x1="299" y1="593.4" x2="302" y2="593.4" stroke="#55568f" stroke-width="1.2"/>
<text x="298.2" y="595.6" font-size="6.2" text-anchor="end" fill="#2a2a2a" font-weight="normal" textLength="8.6" lengthAdjust="spacingAndGlyphs" >-20</text>
<line x1="299" y1="608.53" x2="302" y2="608.53" stroke="#55568f" stroke-width="1.2"/>
<text x="298.2" y="610.73" font-size="6.2" text-anchor="end" fill="#2a2a2a" font-weight="normal" textLength="8.6" lengthAdjust="spacingAndGlyphs" >-30</text>
<line x1="299" y1="623.67" x2="302" y2="623.67" stroke="#55568f" stroke-width="1.2"/>
<text x="298.2" y="625.87" font-size="6.2" text-anchor="end" fill="#2a2a2a" font-weight="normal" textLength="8.6" lengthAdjust="spacingAndGlyphs" >-40</text>
<line x1="299" y1="638.8" x2="302" y2="638.8" stroke="#55568f" stroke-width="1.2"/>
<text x="298.2" y="641" font-size="6.2" text-anchor="end" fill="#2a2a2a" font-weight="normal" textLength="8.6" lengthAdjust="spacingAndGlyphs" >-50</text>
<text x="0" y="0" font-size="6.6" fill="#222" text-anchor="middle" textLength="57" lengthAdjust="spacingAndGlyphs" transform="translate(283.3,593.4) rotate(-90)">weight change (%)</text>
<line x1="313.4" y1="648.6" x2="466.8" y2="648.6" stroke="#55568f" stroke-width="1.3"/>
<line x1="313.4" y1="648.6" x2="313.4" y2="651.4" stroke="#55568f" stroke-width="1"/>
<line x1="320.7" y1="648.6" x2="320.7" y2="650.4" stroke="#55568f" stroke-width="1"/>
<line x1="328.01" y1="648.6" x2="328.01" y2="650.4" stroke="#55568f" stroke-width="1"/>
<line x1="335.31" y1="648.6" x2="335.31" y2="650.4" stroke="#55568f" stroke-width="1"/>
<line x1="342.62" y1="648.6" x2="342.62" y2="650.4" stroke="#55568f" stroke-width="1"/>
<line x1="349.92" y1="648.6" x2="349.92" y2="650.4" stroke="#55568f" stroke-width="1"/>
<line x1="357.23" y1="648.6" x2="357.23" y2="650.4" stroke="#55568f" stroke-width="1"/>
<line x1="364.53" y1="648.6" x2="364.53" y2="651.4" stroke="#55568f" stroke-width="1"/>
<line x1="371.84" y1="648.6" x2="371.84" y2="650.4" stroke="#55568f" stroke-width="1"/>
<line x1="379.14" y1="648.6" x2="379.14" y2="650.4" stroke="#55568f" stroke-width="1"/>
<line x1="386.45" y1="648.6" x2="386.45" y2="650.4" stroke="#55568f" stroke-width="1"/>
<line x1="393.75" y1="648.6" x2="393.75" y2="650.4" stroke="#55568f" stroke-width="1"/>
<line x1="401.06" y1="648.6" x2="401.06" y2="650.4" stroke="#55568f" stroke-width="1"/>
<line x1="408.36" y1="648.6" x2="408.36" y2="650.4" stroke="#55568f" stroke-width="1"/>
<line x1="415.67" y1="648.6" x2="415.67" y2="651.4" stroke="#55568f" stroke-width="1"/>
<line x1="422.97" y1="648.6" x2="422.97" y2="650.4" stroke="#55568f" stroke-width="1"/>
<line x1="430.28" y1="648.6" x2="430.28" y2="650.4" stroke="#55568f" stroke-width="1"/>
<line x1="437.58" y1="648.6" x2="437.58" y2="650.4" stroke="#55568f" stroke-width="1"/>
<line x1="444.89" y1="648.6" x2="444.89" y2="650.4" stroke="#55568f" stroke-width="1"/>
<line x1="452.19" y1="648.6" x2="452.19" y2="650.4" stroke="#55568f" stroke-width="1"/>
<line x1="459.5" y1="648.6" x2="459.5" y2="650.4" stroke="#55568f" stroke-width="1"/>
<line x1="466.8" y1="648.6" x2="466.8" y2="651.4" stroke="#55568f" stroke-width="1"/>
<text x="313.4" y="658.6" font-size="5.9" text-anchor="middle" fill="#222" font-weight="normal" >0</text>
<text x="364.53" y="658.6" font-size="5.9" text-anchor="middle" fill="#222" font-weight="normal" >7</text>
<text x="415.67" y="658.6" font-size="5.9" text-anchor="middle" fill="#222" font-weight="normal" >14</text>
<text x="466.8" y="658.6" font-size="5.9" text-anchor="middle" fill="#222" font-weight="normal" >21</text>
<text x="390.1" y="667.9" font-size="6.1" text-anchor="middle" fill="#222" font-weight="normal" textLength="31" lengthAdjust="spacingAndGlyphs" >time (days)</text>
<line x1="305.5" y1="563.13" x2="466.8" y2="563.13" stroke="#333" stroke-width="0.9" stroke-dasharray="1,2.1"/>
<path d="M320.7,559.35 V565.4 M318.4,559.35 H323 M318.4,565.4 H323" stroke="#ee7b22" stroke-width="1.1" fill="none" opacity="1"/>
<path d="M328.01,556.32 V563.13 M325.71,556.32 H330.31 M325.71,563.13 H330.31" stroke="#ee7b22" stroke-width="1.1" fill="none" opacity="1"/>
<path d="M335.31,569.19 V576.75 M333.01,569.19 H337.61 M333.01,576.75 H337.61" stroke="#ee7b22" stroke-width="1.1" fill="none" opacity="1"/>
<path d="M342.62,577.51 V585.83 M340.32,577.51 H344.92 M340.32,585.83 H344.92" stroke="#ee7b22" stroke-width="1.1" fill="none" opacity="1"/>
<path d="M349.92,582.05 V591.89 M347.62,582.05 H352.22 M347.62,591.89 H352.22" stroke="#ee7b22" stroke-width="1.1" fill="none" opacity="1"/>
<path d="M357.23,588.1 V597.94 M354.93,588.1 H359.53 M354.93,597.94 H359.53" stroke="#ee7b22" stroke-width="1.1" fill="none" opacity="1"/>
<path d="M364.53,592.64 V605.51 M362.23,592.64 H366.83 M362.23,605.51 H366.83" stroke="#ee7b22" stroke-width="1.1" fill="none" opacity="1"/>
<path d="M371.84,593.4 V608.53 M369.54,593.4 H374.14 M369.54,608.53 H374.14" stroke="#ee7b22" stroke-width="1.1" fill="none" opacity="1"/>
<path d="M379.14,591.43 V610.05 M376.84,591.43 H381.44 M376.84,610.05 H381.44" stroke="#ee7b22" stroke-width="1.1" fill="none" opacity="1"/>
<path d="M386.45,588.41 V610.8 M384.15,588.41 H388.75 M384.15,610.8 H388.75" stroke="#ee7b22" stroke-width="1.1" fill="none" opacity="1"/>
<path d="M393.75,586.89 V610.8 M391.45,586.89 H396.05 M391.45,610.8 H396.05" stroke="#ee7b22" stroke-width="1.1" fill="none" opacity="1"/>
<path d="M401.06,580.69 V610.8 M398.76,580.69 H403.36 M398.76,610.8 H403.36" stroke="#ee7b22" stroke-width="1.1" fill="none" opacity="1"/>
<path d="M408.36,577.96 V608.23 M406.06,577.96 H410.66 M406.06,608.23 H410.66" stroke="#ee7b22" stroke-width="1.1" fill="none" opacity="1"/>
<path d="M415.67,575.85 V607.78 M413.37,575.85 H417.97 M413.37,607.78 H417.97" stroke="#ee7b22" stroke-width="1.1" fill="none" opacity="1"/>
<path d="M422.97,573.58 V606.87 M420.67,573.58 H425.27 M420.67,606.87 H425.27" stroke="#ee7b22" stroke-width="1.1" fill="none" opacity="1"/>
<path d="M430.28,572.21 V606.26 M427.98,572.21 H432.58 M427.98,606.26 H432.58" stroke="#ee7b22" stroke-width="1.1" fill="none" opacity="1"/>
<path d="M437.58,571.76 V605.51 M435.28,571.76 H439.88 M435.28,605.51 H439.88" stroke="#ee7b22" stroke-width="1.1" fill="none" opacity="1"/>
<path d="M444.89,568.13 V604.75 M442.59,568.13 H447.19 M442.59,604.75 H447.19" stroke="#ee7b22" stroke-width="1.1" fill="none" opacity="1"/>
<path d="M452.19,567.67 V604.3 M449.89,567.67 H454.49 M449.89,604.3 H454.49" stroke="#ee7b22" stroke-width="1.1" fill="none" opacity="1"/>
<path d="M459.5,567.37 V603.69 M457.2,567.37 H461.8 M457.2,603.69 H461.8" stroke="#ee7b22" stroke-width="1.1" fill="none" opacity="1"/>
<path d="M466.8,565.1 V603.69 M464.5,565.1 H469.1 M464.5,603.69 H469.1" stroke="#ee7b22" stroke-width="1.1" fill="none" opacity="1"/>
<path d="M313.4,563.13 C314.62,563.01 318.27,562.88 320.7,562.38 C323.14,561.87 325.57,558.34 328.01,560.11 C330.44,561.87 332.88,569.36 335.31,572.97 C337.75,576.58 340.18,579.4 342.62,581.75 C345.05,584.09 347.49,585.15 349.92,587.04 C352.36,588.94 354.79,591.08 357.23,593.1 C359.66,595.12 362.1,597.69 364.53,599.15 C366.97,600.61 369.4,601.34 371.84,601.87 C374.27,602.4 376.71,602.43 379.14,602.33 C381.58,602.23 384.01,601.8 386.45,601.27 C388.88,600.74 391.32,599.93 393.75,599.15 C396.19,598.37 398.62,597.44 401.06,596.58 C403.49,595.72 405.93,594.89 408.36,594.01 C410.8,593.12 413.23,591.94 415.67,591.28 C418.1,590.63 420.54,590.5 422.97,590.07 C425.41,589.64 427.84,589.09 430.28,588.71 C432.71,588.33 435.15,588.1 437.58,587.8 C440.02,587.5 442.45,587.2 444.89,586.89 C447.32,586.59 449.76,586.24 452.19,585.98 C454.63,585.73 457.06,585.66 459.5,585.38 C461.93,585.1 465.58,584.5 466.8,584.32" fill="none" stroke="#ee7b22" stroke-width="3.0" stroke-linecap="round" stroke-linejoin="round"/>
<path d="M320.7,560.86 V566.16 M318.4,560.86 H323 M318.4,566.16 H323" stroke="#1f93a7" stroke-width="1.1" fill="none" opacity="1"/>
<path d="M328.01,557.84 V564.34 M325.71,557.84 H330.31 M325.71,564.34 H330.31" stroke="#1f93a7" stroke-width="1.1" fill="none" opacity="1"/>
<path d="M335.31,569.94 V576.75 M333.01,569.94 H337.61 M333.01,576.75 H337.61" stroke="#1f93a7" stroke-width="1.1" fill="none" opacity="1"/>
<path d="M342.62,577.81 V586.74 M340.32,577.81 H344.92 M340.32,586.74 H344.92" stroke="#1f93a7" stroke-width="1.1" fill="none" opacity="1"/>
<path d="M349.92,581.29 V593.7 M347.62,581.29 H352.22 M347.62,593.7 H352.22" stroke="#1f93a7" stroke-width="1.1" fill="none" opacity="1"/>
<path d="M357.23,586.74 V599.15 M354.93,586.74 H359.53 M354.93,599.15 H359.53" stroke="#1f93a7" stroke-width="1.1" fill="none" opacity="1"/>
<path d="M364.53,593.7 V606.26 M362.23,593.7 H366.83 M362.23,606.26 H366.83" stroke="#1f93a7" stroke-width="1.1" fill="none" opacity="1"/>
<path d="M371.84,596.43 V608.84 M369.54,596.43 H374.14 M369.54,608.84 H374.14" stroke="#1f93a7" stroke-width="1.1" fill="none" opacity="1"/>
<path d="M379.14,597.33 V612.47 M376.84,597.33 H381.44 M376.84,612.47 H381.44" stroke="#1f93a7" stroke-width="1.1" fill="none" opacity="1"/>
<path d="M386.45,593.85 V613.53 M384.15,593.85 H388.75 M384.15,613.53 H388.75" stroke="#1f93a7" stroke-width="1.1" fill="none" opacity="1"/>
<path d="M393.75,590.37 V613.53 M391.45,590.37 H396.05 M391.45,613.53 H396.05" stroke="#1f93a7" stroke-width="1.1" fill="none" opacity="1"/>
<path d="M401.06,587.8 V613.22 M398.76,587.8 H403.36 M398.76,613.22 H403.36" stroke="#1f93a7" stroke-width="1.1" fill="none" opacity="1"/>
<path d="M408.36,582.96 V612.62 M406.06,582.96 H410.66 M406.06,612.62 H410.66" stroke="#1f93a7" stroke-width="1.1" fill="none" opacity="1"/>
<path d="M415.67,577.96 V610.05 M413.37,577.96 H417.97 M413.37,610.05 H417.97" stroke="#1f93a7" stroke-width="1.1" fill="none" opacity="1"/>
<path d="M422.97,576.3 V609.74 M420.67,576.3 H425.27 M420.67,609.74 H425.27" stroke="#1f93a7" stroke-width="1.1" fill="none" opacity="1"/>
<path d="M430.28,574.03 V609.14 M427.98,574.03 H432.58 M427.98,609.14 H432.58" stroke="#1f93a7" stroke-width="1.1" fill="none" opacity="1"/>
<path d="M437.58,575.24 V609.14 M435.28,575.24 H439.88 M435.28,609.14 H439.88" stroke="#1f93a7" stroke-width="1.1" fill="none" opacity="1"/>
<path d="M444.89,572.67 V608.23 M442.59,572.67 H447.19 M442.59,608.23 H447.19" stroke="#1f93a7" stroke-width="1.1" fill="none" opacity="1"/>
<path d="M452.19,571.76 V608.23 M449.89,571.76 H454.49 M449.89,608.23 H454.49" stroke="#1f93a7" stroke-width="1.1" fill="none" opacity="1"/>
<path d="M459.5,569.94 V607.93 M457.2,569.94 H461.8 M457.2,607.93 H461.8" stroke="#1f93a7" stroke-width="1.1" fill="none" opacity="1"/>
<path d="M466.8,569.94 V608.23 M464.5,569.94 H469.1 M464.5,608.23 H469.1" stroke="#1f93a7" stroke-width="1.1" fill="none" opacity="1"/>
<path d="M313.4,563.13 C314.62,563.21 318.27,563.89 320.7,563.59 C323.14,563.28 325.57,559.68 328.01,561.32 C330.44,562.96 332.88,569.94 335.31,573.42 C337.75,576.9 340.18,579.86 342.62,582.2 C345.05,584.55 347.49,585.58 349.92,587.5 C352.36,589.41 354.79,591.46 357.23,593.7 C359.66,595.95 362.1,599.18 364.53,600.97 C366.97,602.76 369.4,603.72 371.84,604.45 C374.27,605.18 376.71,605.43 379.14,605.36 C381.58,605.28 384.01,604.5 386.45,603.99 C388.88,603.49 391.32,603.11 393.75,602.33 C396.19,601.55 398.62,600.26 401.06,599.3 C403.49,598.34 405.93,597.61 408.36,596.58 C410.8,595.54 413.23,593.98 415.67,593.1 C418.1,592.21 420.54,591.74 422.97,591.28 C425.41,590.83 427.84,590.22 430.28,590.37 C432.71,590.52 435.15,592.04 437.58,592.19 C440.02,592.34 442.45,591.58 444.89,591.28 C447.32,590.98 449.76,590.68 452.19,590.37 C454.63,590.07 457.06,589.62 459.5,589.47 C461.93,589.31 465.58,589.47 466.8,589.47" fill="none" stroke="#1f93a7" stroke-width="3.0" stroke-linecap="round" stroke-linejoin="round"/>
<text x="471.8" y="585.9" font-size="9.5" text-anchor="start" fill="#111" font-weight="normal" textLength="34.2" lengthAdjust="spacingAndGlyphs" >mini-HA</text>
<text x="471.8" y="597.3" font-size="9.5" text-anchor="start" fill="#111" font-weight="normal" textLength="12.7" lengthAdjust="spacingAndGlyphs" >TIV</text>
</svg>
</body></html>
